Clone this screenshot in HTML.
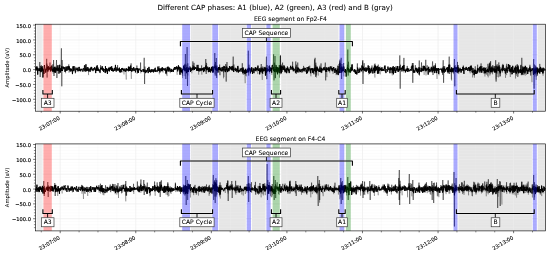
<!DOCTYPE html>
<html><head><meta charset="utf-8"><style>html,body{margin:0;padding:0;background:#fff;overflow:hidden}svg{display:block;filter:blur(0.25px)}</style></head><body>
<svg width="550" height="253" viewBox="0 0 550 253" font-family="'DejaVu Sans', 'Liberation Sans', sans-serif" fill="#000">
<style>text{stroke:#000;stroke-width:0.15;stroke-linejoin:round;text-rendering:geometricPrecision} text.t{stroke-width:0.06} text.r{stroke-width:1.1}</style>
<rect width="550" height="253" fill="#fff"/>
<text class="t" x="275.2" y="9.9" font-size="7.15" text-anchor="middle">Different CAP phases: A1 (blue), A2 (green), A3 (red) and B (gray)</text>
<rect x="36.80" y="24.20" width="5.80" height="87.00" fill="#808080" fill-opacity="0.15"/>
<rect x="191.00" y="24.20" width="20.40" height="87.00" fill="#808080" fill-opacity="0.2"/>
<rect x="219.00" y="24.20" width="26.80" height="87.00" fill="#808080" fill-opacity="0.2"/>
<rect x="251.90" y="24.20" width="13.60" height="87.00" fill="#808080" fill-opacity="0.2"/>
<rect x="281.20" y="24.20" width="57.30" height="87.00" fill="#808080" fill-opacity="0.2"/>
<rect x="458.40" y="24.20" width="73.50" height="87.00" fill="#808080" fill-opacity="0.2"/>
<rect x="537.70" y="24.20" width="7.80" height="87.00" fill="#808080" fill-opacity="0.2"/>
<path d="M35.4 108.18H545.5M35.4 105.22H545.5M35.4 102.25H545.5M35.4 96.31H545.5M35.4 93.34H545.5M35.4 90.38H545.5M35.4 87.41H545.5M35.4 81.47H545.5M35.4 78.50H545.5M35.4 75.54H545.5M35.4 72.57H545.5M35.4 66.63H545.5M35.4 63.66H545.5M35.4 60.70H545.5M35.4 57.73H545.5M35.4 51.79H545.5M35.4 48.82H545.5M35.4 45.86H545.5M35.4 42.89H545.5M35.4 36.95H545.5M35.4 33.98H545.5M35.4 31.02H545.5M35.4 28.05H545.5M41.31 24.2V111.2M79.09 24.2V111.2M97.98 24.2V111.2M116.88 24.2V111.2M154.66 24.2V111.2M173.56 24.2V111.2M192.45 24.2V111.2M230.23 24.2V111.2M249.12 24.2V111.2M268.02 24.2V111.2M305.80 24.2V111.2M324.69 24.2V111.2M343.59 24.2V111.2M381.37 24.2V111.2M400.26 24.2V111.2M419.16 24.2V111.2M456.94 24.2V111.2M475.83 24.2V111.2M494.73 24.2V111.2M532.51 24.2V111.2" stroke="#f2f2f2" stroke-width="0.5" stroke-opacity="0.45" fill="none"/>
<path d="M35.4 99.28H545.5M35.4 84.44H545.5M35.4 69.60H545.5M35.4 54.76H545.5M35.4 39.92H545.5M35.4 25.08H545.5M60.20 24.2V111.2M135.77 24.2V111.2M211.34 24.2V111.2M286.91 24.2V111.2M362.48 24.2V111.2M438.05 24.2V111.2M513.62 24.2V111.2" stroke="#ececec" stroke-width="0.7" fill="none"/>
<path d="M35.70 67.2 35.95 70.3 36.20 70.6 36.45 69.0 36.70 66.8 36.95 66.3 37.20 69.7 37.45 67.7 37.70 74.6 37.95 69.1 38.20 70.8 38.45 69.5 38.70 68.4 38.95 68.1 39.20 68.3 39.45 71.1 39.70 68.5 39.95 68.1 40.20 68.0 40.45 71.1 40.70 70.5 40.95 72.2 41.20 69.6 41.45 67.4 41.70 71.4 41.95 66.9 42.20 66.2 42.45 70.7 42.70 67.9 42.95 77.5 43.20 72.8 43.45 70.9 43.70 69.4 43.95 73.9 44.20 66.1 44.45 65.0 44.70 67.8 44.95 67.9 45.20 69.6 45.45 69.2 45.70 72.6 45.95 70.6 46.20 69.7 46.45 69.9 46.70 68.7 46.95 68.8 47.20 67.1 47.45 67.7 47.70 69.6 47.95 71.5 48.20 67.7 48.45 66.3 48.70 70.1 48.95 67.9 49.20 69.3 49.45 69.0 49.70 67.8 49.95 67.3 50.20 69.9 50.45 66.8 50.70 71.4 50.95 68.7 51.20 70.2 51.45 69.2 51.70 65.6 51.95 70.3 52.20 69.2 52.45 71.0 52.70 71.6 52.95 69.7 53.20 67.6 53.45 68.4 53.70 71.5 53.95 69.0 54.20 70.5 54.45 72.4 54.70 66.8 54.95 71.1 55.20 68.4 55.45 72.7 55.70 70.8 55.95 67.7 56.20 70.1 56.45 68.0 56.70 70.2 56.95 70.9 57.20 70.9 57.45 70.5 57.70 67.7 57.95 65.2 58.20 70.9 58.45 68.5 58.70 67.8 58.95 73.6 59.20 72.2 59.45 68.9 59.70 64.8 59.95 66.7 60.20 70.6 60.45 72.5 60.70 68.1 60.95 68.9 61.20 69.7 61.45 70.9 61.70 66.3 61.95 69.4 62.20 69.7 62.45 71.0 62.70 69.9 62.95 66.4 63.20 68.1 63.45 67.1 63.70 68.9 63.95 69.2 64.20 69.1 64.45 67.2 64.70 67.8 64.95 71.8 65.20 70.5 65.45 71.3 65.70 69.1 65.95 66.7 66.20 70.5 66.45 70.7 66.70 69.2 66.95 66.6 67.20 70.5 67.45 69.5 67.70 69.6 67.95 66.3 68.20 68.6 68.45 66.6 68.70 67.1 68.95 70.0 69.20 66.3 69.45 67.1 69.70 70.3 69.95 71.1 70.20 71.6 70.45 68.5 70.70 70.3 70.95 70.9 71.20 70.1 71.45 70.0 71.70 68.7 71.95 71.3 72.20 70.3 72.45 74.1 72.70 71.6 72.95 66.3 73.20 66.6 73.45 70.7 73.70 69.7 73.95 66.0 74.20 69.1 74.45 69.2 74.70 68.9 74.95 70.8 75.20 71.1 75.45 72.5 75.70 71.0 75.95 68.3 76.20 68.8 76.45 69.3 76.70 69.8 76.95 68.6 77.20 69.8 77.45 68.4 77.70 70.8 77.95 70.5 78.20 70.4 78.45 69.9 78.70 70.7 78.95 68.5 79.20 66.9 79.45 68.8 79.70 70.9 79.95 69.7 80.20 68.8 80.45 69.8 80.70 71.3 80.95 70.0 81.20 69.0 81.45 69.7 81.70 69.7 81.95 68.7 82.20 70.0 82.45 70.8 82.70 71.4 82.95 71.7 83.20 68.9 83.45 68.4 83.70 69.2 83.95 68.5 84.20 70.8 84.45 65.4 84.70 66.2 84.95 66.7 85.20 71.6 85.45 70.1 85.70 67.5 85.95 64.3 86.20 71.1 86.45 71.2 86.70 68.5 86.95 69.7 87.20 67.0 87.45 70.7 87.70 70.7 87.95 71.0 88.20 69.2 88.45 70.4 88.70 71.4 88.95 68.3 89.20 70.6 89.45 70.3 89.70 69.3 89.95 71.8 90.20 71.7 90.45 70.3 90.70 67.8 90.95 70.4 91.20 66.9 91.45 68.9 91.70 67.5 91.95 67.6 92.20 70.0 92.45 69.2 92.70 69.8 92.95 71.1 93.20 70.5 93.45 68.4 93.70 69.4 93.95 69.3 94.20 69.1 94.45 69.4 94.70 67.2 94.95 68.4 95.20 70.3 95.45 69.2 95.70 73.1 95.95 68.3 96.20 69.5 96.45 66.5 96.70 71.0 96.95 69.9 97.20 65.3 97.45 70.7 97.70 70.3 97.95 67.6 98.20 68.8 98.45 69.0 98.70 71.1 98.95 70.1 99.20 70.2 99.45 70.3 99.70 70.2 99.95 72.6 100.20 69.2 100.45 68.9 100.70 67.7 100.95 69.4 101.20 68.4 101.45 69.3 101.70 67.8 101.95 69.0 102.20 66.2 102.45 69.1 102.70 70.6 102.95 67.9 103.20 68.2 103.45 68.7 103.70 71.9 103.95 70.7 104.20 69.3 104.45 69.5 104.70 69.8 104.95 69.2 105.20 72.9 105.45 66.2 105.70 72.1 105.95 69.8 106.20 70.2 106.45 69.6 106.70 68.2 106.95 71.4 107.20 69.1 107.45 73.9 107.70 71.0 107.95 70.8 108.20 70.7 108.45 68.3 108.70 69.1 108.95 70.8 109.20 67.8 109.45 71.3 109.70 68.3 109.95 68.8 110.20 67.7 110.45 69.6 110.70 66.9 110.95 67.7 111.20 67.8 111.45 71.0 111.70 66.3 111.95 70.0 112.20 70.9 112.45 71.0 112.70 68.1 112.95 70.3 113.20 71.6 113.45 69.9 113.70 71.0 113.95 69.7 114.20 70.2 114.45 67.9 114.70 68.8 114.95 70.9 115.20 68.4 115.45 64.9 115.70 69.6 115.95 69.1 116.20 71.6 116.45 70.7 116.70 68.4 116.95 67.4 117.20 70.2 117.45 68.6 117.70 68.9 117.95 70.7 118.20 70.8 118.45 69.7 118.70 68.6 118.95 69.9 119.20 68.8 119.45 67.7 119.70 72.1 119.95 70.0 120.20 72.5 120.45 70.5 120.70 69.1 120.95 69.9 121.20 72.2 121.45 69.1 121.70 68.2 121.95 69.5 122.20 69.9 122.45 68.1 122.70 68.1 122.95 69.8 123.20 69.8 123.45 69.0 123.70 70.6 123.95 69.8 124.20 71.3 124.45 69.6 124.70 69.8 124.95 69.2 125.20 70.5 125.45 70.1 125.70 71.7 125.95 70.8 126.20 70.1 126.45 68.4 126.70 70.5 126.95 68.9 127.20 69.3 127.45 70.0 127.70 68.9 127.95 70.9 128.20 71.1 128.45 66.8 128.70 71.2 128.95 66.6 129.20 69.5 129.45 70.9 129.70 67.1 129.95 69.2 130.20 68.4 130.45 70.8 130.70 65.6 130.95 68.7 131.20 68.0 131.45 69.7 131.70 71.7 131.95 71.3 132.20 70.7 132.45 70.3 132.70 68.3 132.95 71.1 133.20 70.4 133.45 67.4 133.70 68.3 133.95 68.7 134.20 70.4 134.45 70.9 134.70 70.3 134.95 68.3 135.20 68.6 135.45 72.4 135.70 70.7 135.95 70.5 136.20 68.3 136.45 69.1 136.70 68.6 136.95 69.6 137.20 69.8 137.45 68.2 137.70 72.6 137.95 70.6 138.20 68.5 138.45 72.8 138.70 69.5 138.95 70.1 139.20 69.8 139.45 69.0 139.70 68.6 139.95 69.5 140.20 70.5 140.45 70.2 140.70 70.6 140.95 71.2 141.20 70.3 141.45 71.7 141.70 72.0 141.95 70.4 142.20 69.9 142.45 70.0 142.70 69.6 142.95 69.8 143.20 71.6 143.45 70.8 143.70 69.1 143.95 72.1 144.20 71.8 144.45 71.3 144.70 71.5 144.95 69.7 145.20 70.9 145.45 73.1 145.70 73.0 145.95 70.5 146.20 71.9 146.45 72.2 146.70 70.3 146.95 69.9 147.20 71.4 147.45 70.2 147.70 68.1 147.95 68.7 148.20 73.1 148.45 70.3 148.70 69.7 148.95 66.9 149.20 69.1 149.45 71.9 149.70 69.2 149.95 71.0 150.20 70.5 150.45 70.7 150.70 72.5 150.95 69.9 151.20 69.7 151.45 71.9 151.70 71.2 151.95 69.1 152.20 71.5 152.45 71.5 152.70 70.5 152.95 71.3 153.20 69.6 153.45 72.4 153.70 70.3 153.95 70.6 154.20 69.3 154.45 71.5 154.70 70.4 154.95 68.1 155.20 67.8 155.45 69.2 155.70 72.0 155.95 70.5 156.20 70.2 156.45 70.3 156.70 70.5 156.95 71.8 157.20 71.8 157.45 70.2 157.70 70.7 157.95 66.6 158.20 70.1 158.45 70.3 158.70 71.0 158.95 68.2 159.20 70.9 159.45 69.3 159.70 69.2 159.95 72.4 160.20 68.4 160.45 70.1 160.70 70.3 160.95 70.1 161.20 69.3 161.45 71.1 161.70 67.9 161.95 67.7 162.20 71.2 162.45 67.4 162.70 69.8 162.95 70.2 163.20 68.8 163.45 68.5 163.70 69.3 163.95 70.0 164.20 68.6 164.45 69.5 164.70 69.2 164.95 70.7 165.20 68.2 165.45 70.7 165.70 70.2 165.95 73.6 166.20 72.7 166.45 69.9 166.70 71.8 166.95 71.7 167.20 68.5 167.45 66.9 167.70 70.5 167.95 70.1 168.20 66.7 168.45 70.3 168.70 71.5 168.95 68.2 169.20 70.4 169.45 67.7 169.70 70.2 169.95 70.3 170.20 71.7 170.45 70.6 170.70 70.4 170.95 71.0 171.20 68.9 171.45 72.0 171.70 69.7 171.95 71.3 172.20 69.7 172.45 70.2 172.70 71.4 172.95 71.0 173.20 71.5 173.45 71.9 173.70 68.6 173.95 69.9 174.20 69.2 174.45 67.0 174.70 68.0 174.95 69.7 175.20 68.3 175.45 67.2 175.70 69.1 175.95 69.4 176.20 69.0 176.45 66.5 176.70 67.7 176.95 68.7 177.20 67.4 177.45 67.2 177.70 71.4 177.95 69.7 178.20 67.0 178.45 65.3 178.70 69.5 178.95 66.7 179.20 68.4 179.45 67.2 179.70 67.1 179.95 74.7 180.20 68.4 180.45 70.8 180.70 72.1 180.95 68.0 181.20 70.8 181.45 70.3 181.70 72.4 181.95 70.9 182.20 69.6 182.45 73.3 182.70 71.4 182.95 70.2 183.20 68.3 183.45 68.0 183.70 65.6 183.95 69.9 184.20 67.1 184.45 70.4 184.70 70.3 184.95 68.2 185.20 71.3 185.45 71.0 185.70 70.4 185.95 68.3 186.20 68.0 186.45 73.2 186.70 70.7 186.95 67.1 187.20 72.1 187.45 69.1 187.70 72.0 187.95 71.6 188.20 71.0 188.45 71.9 188.70 67.7 188.95 69.4 189.20 69.4 189.45 69.5 189.70 68.5 189.95 68.8 190.20 67.4 190.45 71.9 190.70 68.3 190.95 71.0 191.20 69.9 191.45 69.7 191.70 70.3 191.95 69.8 192.20 68.1 192.45 69.0 192.70 69.9 192.95 67.2 193.20 67.8 193.45 68.2 193.70 69.4 193.95 66.2 194.20 68.1 194.45 70.0 194.70 67.7 194.95 69.0 195.20 67.5 195.45 67.2 195.70 68.7 195.95 68.8 196.20 67.6 196.45 68.8 196.70 70.8 196.95 68.5 197.20 64.9 197.45 70.7 197.70 69.1 197.95 67.5 198.20 68.8 198.45 71.0 198.70 69.1 198.95 68.0 199.20 71.4 199.45 70.2 199.70 69.0 199.95 68.4 200.20 69.7 200.45 68.5 200.70 71.1 200.95 70.8 201.20 70.6 201.45 69.0 201.70 68.5 201.95 70.3 202.20 68.4 202.45 69.8 202.70 69.5 202.95 68.2 203.20 70.5 203.45 67.6 203.70 72.1 203.95 69.0 204.20 71.0 204.45 70.7 204.70 67.4 204.95 67.3 205.20 69.1 205.45 69.0 205.70 67.1 205.95 65.1 206.20 65.2 206.45 68.9 206.70 70.3 206.95 67.0 207.20 66.7 207.45 68.9 207.70 69.7 207.95 70.0 208.20 69.4 208.45 67.9 208.70 72.1 208.95 68.5 209.20 71.6 209.45 67.3 209.70 71.4 209.95 69.5 210.20 68.8 210.45 72.3 210.70 72.4 210.95 68.9 211.20 70.1 211.45 66.9 211.70 70.8 211.95 69.8 212.20 69.0 212.45 71.6 212.70 66.4 212.95 72.8 213.20 71.0 213.45 71.6 213.70 67.1 213.95 66.6 214.20 67.9 214.45 67.6 214.70 67.6 214.95 66.8 215.20 69.4 215.45 68.2 215.70 68.1 215.95 69.9 216.20 69.7 216.45 69.5 216.70 67.6 216.95 71.0 217.20 70.0 217.45 70.2 217.70 68.4 217.95 72.6 218.20 70.8 218.45 67.2 218.70 69.3 218.95 70.1 219.20 68.1 219.45 67.0 219.70 69.8 219.95 68.3 220.20 69.1 220.45 70.5 220.70 68.2 220.95 67.8 221.20 68.3 221.45 71.0 221.70 70.5 221.95 71.5 222.20 67.0 222.45 70.1 222.70 70.7 222.95 69.7 223.20 69.0 223.45 70.0 223.70 70.2 223.95 69.5 224.20 68.6 224.45 66.3 224.70 68.7 224.95 71.4 225.20 69.0 225.45 72.1 225.70 68.7 225.95 66.8 226.20 68.5 226.45 70.3 226.70 68.0 226.95 67.3 227.20 68.0 227.45 72.1 227.70 70.1 227.95 69.2 228.20 71.2 228.45 70.4 228.70 68.1 228.95 71.2 229.20 69.9 229.45 66.1 229.70 68.3 229.95 69.6 230.20 69.2 230.45 68.7 230.70 67.2 230.95 68.6 231.20 66.3 231.45 69.8 231.70 68.8 231.95 68.2 232.20 68.4 232.45 70.3 232.70 65.9 232.95 68.3 233.20 70.4 233.45 68.8 233.70 71.7 233.95 70.1 234.20 68.9 234.45 69.5 234.70 69.6 234.95 69.1 235.20 67.8 235.45 68.7 235.70 71.1 235.95 69.4 236.20 68.6 236.45 68.9 236.70 70.2 236.95 72.2 237.20 68.8 237.45 71.0 237.70 66.2 237.95 67.4 238.20 71.6 238.45 72.5 238.70 70.0 238.95 70.5 239.20 69.9 239.45 71.0 239.70 71.1 239.95 71.8 240.20 68.7 240.45 69.4 240.70 70.5 240.95 68.6 241.20 69.0 241.45 68.9 241.70 68.3 241.95 71.8 242.20 71.0 242.45 69.2 242.70 71.9 242.95 72.9 243.20 70.4 243.45 69.4 243.70 70.2 243.95 71.5 244.20 72.6 244.45 70.6 244.70 70.3 244.95 74.1 245.20 73.6 245.45 71.7 245.70 68.8 245.95 71.6 246.20 71.9 246.45 73.0 246.70 71.7 246.95 70.3 247.20 72.5 247.45 68.7 247.70 69.0 247.95 69.8 248.20 69.2 248.45 72.2 248.70 67.7 248.95 69.3 249.20 68.3 249.45 68.0 249.70 70.5 249.95 67.9 250.20 69.7 250.45 73.3 250.70 69.6 250.95 72.0 251.20 69.2 251.45 70.6 251.70 67.2 251.95 69.9 252.20 70.1 252.45 73.8 252.70 70.9 252.95 70.7 253.20 69.9 253.45 68.5 253.70 71.8 253.95 73.2 254.20 69.4 254.45 69.4 254.70 69.0 254.95 69.6 255.20 71.1 255.45 67.8 255.70 67.2 255.95 70.8 256.20 68.5 256.45 69.1 256.70 69.7 256.95 68.5 257.20 69.3 257.45 69.8 257.70 69.5 257.95 65.6 258.20 71.0 258.45 69.6 258.70 70.7 258.95 70.3 259.20 68.4 259.45 69.6 259.70 74.3 259.95 69.7 260.20 68.4 260.45 69.6 260.70 72.2 260.95 71.2 261.20 68.9 261.45 70.8 261.70 68.6 261.95 70.0 262.20 71.8 262.45 73.4 262.70 68.5 262.95 70.0 263.20 69.2 263.45 71.3 263.70 69.3 263.95 68.4 264.20 67.4 264.45 69.6 264.70 69.8 264.95 71.0 265.20 67.6 265.45 75.6 265.70 68.2 265.95 71.6 266.20 72.5 266.45 72.8 266.70 69.5 266.95 67.8 267.20 68.4 267.45 71.4 267.70 70.2 267.95 69.8 268.20 69.1 268.45 70.4 268.70 71.2 268.95 71.0 269.20 66.2 269.45 69.3 269.70 72.0 269.95 68.7 270.20 71.0 270.45 69.4 270.70 67.5 270.95 68.5 271.20 70.6 271.45 68.2 271.70 72.7 271.95 66.3 272.20 65.3 272.45 64.9 272.70 67.1 272.95 69.4 273.20 67.5 273.45 70.7 273.70 67.2 273.95 70.0 274.20 71.5 274.45 71.9 274.70 69.4 274.95 72.1 275.20 69.5 275.45 69.7 275.70 69.0 275.95 69.8 276.20 67.0 276.45 71.6 276.70 68.9 276.95 69.1 277.20 68.6 277.45 74.3 277.70 67.0 277.95 67.3 278.20 71.7 278.45 68.0 278.70 69.3 278.95 68.4 279.20 73.2 279.45 68.0 279.70 67.4 279.95 68.7 280.20 69.1 280.45 69.7 280.70 66.0 280.95 69.5 281.20 73.3 281.45 66.4 281.70 71.4 281.95 72.0 282.20 68.8 282.45 68.1 282.70 66.4 282.95 69.8 283.20 68.9 283.45 67.7 283.70 69.6 283.95 65.4 284.20 68.6 284.45 70.4 284.70 69.4 284.95 69.0 285.20 72.3 285.45 69.7 285.70 70.9 285.95 70.9 286.20 68.2 286.45 70.8 286.70 73.2 286.95 69.7 287.20 69.2 287.45 67.6 287.70 70.0 287.95 68.3 288.20 69.2 288.45 71.1 288.70 69.2 288.95 69.1 289.20 73.1 289.45 70.2 289.70 70.2 289.95 68.9 290.20 67.3 290.45 67.8 290.70 65.8 290.95 69.7 291.20 68.7 291.45 68.0 291.70 67.3 291.95 68.7 292.20 69.6 292.45 69.5 292.70 66.6 292.95 68.0 293.20 68.7 293.45 68.2 293.70 71.2 293.95 70.6 294.20 69.6 294.45 69.3 294.70 68.8 294.95 70.7 295.20 70.8 295.45 72.7 295.70 70.4 295.95 66.5 296.20 71.1 296.45 71.0 296.70 70.2 296.95 72.4 297.20 69.8 297.45 71.7 297.70 67.5 297.95 70.3 298.20 70.3 298.45 67.8 298.70 69.4 298.95 72.3 299.20 71.4 299.45 71.1 299.70 68.8 299.95 69.5 300.20 70.1 300.45 72.1 300.70 70.8 300.95 69.6 301.20 70.4 301.45 69.4 301.70 69.5 301.95 72.4 302.20 71.7 302.45 68.8 302.70 70.0 302.95 68.8 303.20 70.7 303.45 70.5 303.70 69.8 303.95 68.1 304.20 70.4 304.45 69.9 304.70 70.5 304.95 70.5 305.20 67.9 305.45 69.1 305.70 69.0 305.95 69.2 306.20 72.1 306.45 70.2 306.70 73.7 306.95 70.2 307.20 67.0 307.45 73.1 307.70 71.2 307.95 71.2 308.20 71.4 308.45 70.4 308.70 66.6 308.95 70.7 309.20 68.8 309.45 68.4 309.70 68.3 309.95 69.2 310.20 69.1 310.45 69.8 310.70 72.9 310.95 68.4 311.20 69.7 311.45 68.5 311.70 68.5 311.95 70.1 312.20 70.6 312.45 68.4 312.70 72.7 312.95 68.4 313.20 72.6 313.45 71.7 313.70 71.6 313.95 71.0 314.20 68.5 314.45 70.9 314.70 68.3 314.95 67.7 315.20 69.1 315.45 71.6 315.70 68.6 315.95 68.7 316.20 72.2 316.45 70.4 316.70 69.5 316.95 67.0 317.20 70.2 317.45 67.9 317.70 69.7 317.95 70.8 318.20 70.2 318.45 71.3 318.70 71.4 318.95 68.6 319.20 70.4 319.45 72.0 319.70 69.7 319.95 67.4 320.20 69.1 320.45 69.3 320.70 72.2 320.95 70.4 321.20 67.8 321.45 68.7 321.70 72.6 321.95 68.4 322.20 69.1 322.45 70.3 322.70 70.0 322.95 69.0 323.20 70.4 323.45 67.8 323.70 69.1 323.95 67.4 324.20 68.5 324.45 68.6 324.70 70.0 324.95 69.5 325.20 69.1 325.45 70.2 325.70 71.8 325.95 71.2 326.20 67.6 326.45 69.5 326.70 71.8 326.95 68.9 327.20 69.9 327.45 69.5 327.70 69.6 327.95 67.7 328.20 69.8 328.45 69.8 328.70 68.5 328.95 70.8 329.20 70.0 329.45 70.9 329.70 69.6 329.95 70.1 330.20 68.0 330.45 66.5 330.70 67.1 330.95 68.6 331.20 67.6 331.45 69.1 331.70 68.7 331.95 70.5 332.20 68.3 332.45 68.0 332.70 71.2 332.95 69.6 333.20 68.7 333.45 67.1 333.70 68.3 333.95 69.5 334.20 70.0 334.45 69.4 334.70 69.7 334.95 73.0 335.20 68.7 335.45 69.9 335.70 68.6 335.95 71.4 336.20 70.0 336.45 71.6 336.70 70.5 336.95 74.3 337.20 71.0 337.45 68.7 337.70 69.5 337.95 69.5 338.20 75.1 338.45 71.1 338.70 70.4 338.95 66.2 339.20 69.8 339.45 73.1 339.70 70.2 339.95 63.2 340.20 69.4 340.45 67.7 340.70 68.5 340.95 73.0 341.20 67.7 341.45 67.4 341.70 72.0 341.95 67.9 342.20 67.3 342.45 71.2 342.70 68.8 342.95 69.2 343.20 70.6 343.45 71.0 343.70 66.5 343.95 67.4 344.20 70.7 344.45 72.2 344.70 71.3 344.95 71.1 345.20 71.0 345.45 69.0 345.70 72.7 345.95 70.1 346.20 76.6 346.45 72.6 346.70 71.9 346.95 71.1 347.20 68.0 347.45 67.3 347.70 70.1 347.95 68.3 348.20 68.3 348.45 70.5 348.70 68.4 348.95 72.3 349.20 72.1 349.45 70.6 349.70 71.7 349.95 69.1 350.20 72.7 350.45 68.5 350.70 72.1 350.95 67.0 351.20 67.4 351.45 70.7 351.70 69.4 351.95 64.5 352.20 70.1 352.45 68.8 352.70 69.3 352.95 70.4 353.20 70.7 353.45 71.4 353.70 70.6 353.95 70.3 354.20 70.4 354.45 71.7 354.70 69.2 354.95 72.3 355.20 72.0 355.45 73.7 355.70 70.3 355.95 73.6 356.20 72.1 356.45 72.0 356.70 74.4 356.95 70.3 357.20 70.6 357.45 67.6 357.70 67.9 357.95 71.5 358.20 73.0 358.45 72.0 358.70 71.8 358.95 69.3 359.20 70.8 359.45 71.2 359.70 72.4 359.95 69.1 360.20 69.8 360.45 68.6 360.70 68.7 360.95 68.7 361.20 69.1 361.45 71.3 361.70 69.6 361.95 65.5 362.20 67.3 362.45 68.6 362.70 69.9 362.95 68.2 363.20 69.1 363.45 69.1 363.70 67.8 363.95 69.3 364.20 69.4 364.45 68.5 364.70 70.7 364.95 68.2 365.20 69.7 365.45 71.1 365.70 71.5 365.95 67.4 366.20 69.6 366.45 71.5 366.70 68.4 366.95 70.1 367.20 70.5 367.45 69.7 367.70 68.0 367.95 68.8 368.20 65.4 368.45 70.7 368.70 72.7 368.95 71.9 369.20 70.0 369.45 68.0 369.70 73.6 369.95 69.0 370.20 70.4 370.45 70.2 370.70 72.8 370.95 72.0 371.20 67.8 371.45 69.5 371.70 70.7 371.95 69.5 372.20 70.6 372.45 70.4 372.70 71.6 372.95 73.4 373.20 67.7 373.45 68.4 373.70 70.5 373.95 69.9 374.20 67.9 374.45 66.2 374.70 72.8 374.95 67.8 375.20 66.6 375.45 65.6 375.70 71.1 375.95 69.9 376.20 69.0 376.45 66.9 376.70 70.1 376.95 69.6 377.20 65.9 377.45 73.7 377.70 70.8 377.95 69.0 378.20 67.2 378.45 68.1 378.70 73.6 378.95 69.4 379.20 67.2 379.45 70.1 379.70 70.7 379.95 69.9 380.20 69.6 380.45 68.6 380.70 70.2 380.95 68.2 381.20 68.1 381.45 68.8 381.70 71.1 381.95 67.3 382.20 70.6 382.45 70.3 382.70 70.8 382.95 69.0 383.20 70.1 383.45 69.3 383.70 70.0 383.95 71.0 384.20 68.1 384.45 66.6 384.70 68.8 384.95 65.5 385.20 67.8 385.45 71.5 385.70 71.1 385.95 73.1 386.20 70.2 386.45 69.5 386.70 69.2 386.95 69.8 387.20 70.0 387.45 71.1 387.70 71.6 387.95 66.6 388.20 69.9 388.45 69.2 388.70 68.5 388.95 69.0 389.20 69.7 389.45 69.6 389.70 68.4 389.95 73.2 390.20 67.2 390.45 68.9 390.70 70.2 390.95 68.0 391.20 69.7 391.45 68.4 391.70 68.9 391.95 68.6 392.20 73.2 392.45 67.6 392.70 70.8 392.95 69.4 393.20 66.2 393.45 74.3 393.70 69.2 393.95 68.1 394.20 70.8 394.45 69.0 394.70 67.1 394.95 70.0 395.20 72.9 395.45 70.0 395.70 72.8 395.95 68.4 396.20 67.9 396.45 70.3 396.70 70.5 396.95 70.5 397.20 68.4 397.45 66.1 397.70 70.8 397.95 70.7 398.20 72.0 398.45 68.8 398.70 69.3 398.95 71.2 399.20 66.2 399.45 70.1 399.70 69.8 399.95 69.7 400.20 69.4 400.45 69.6 400.70 68.5 400.95 67.9 401.20 67.6 401.45 69.2 401.70 68.4 401.95 71.4 402.20 69.9 402.45 68.7 402.70 65.9 402.95 69.1 403.20 67.1 403.45 70.6 403.70 66.1 403.95 65.0 404.20 69.1 404.45 69.2 404.70 71.0 404.95 70.6 405.20 70.2 405.45 72.4 405.70 69.8 405.95 71.4 406.20 68.7 406.45 70.9 406.70 70.2 406.95 70.0 407.20 68.0 407.45 68.1 407.70 71.9 407.95 70.8 408.20 70.8 408.45 70.5 408.70 68.5 408.95 71.4 409.20 70.0 409.45 70.2 409.70 70.2 409.95 71.1 410.20 70.5 410.45 69.8 410.70 69.0 410.95 69.7 411.20 70.6 411.45 67.7 411.70 68.0 411.95 67.3 412.20 65.8 412.45 67.8 412.70 66.8 412.95 69.3 413.20 69.1 413.45 69.7 413.70 72.8 413.95 69.8 414.20 70.6 414.45 71.1 414.70 72.7 414.95 70.3 415.20 70.2 415.45 67.9 415.70 69.0 415.95 69.1 416.20 70.6 416.45 71.5 416.70 67.8 416.95 69.6 417.20 70.1 417.45 73.1 417.70 68.8 417.95 69.0 418.20 71.8 418.45 69.1 418.70 71.1 418.95 67.3 419.20 74.6 419.45 69.2 419.70 69.1 419.95 67.7 420.20 70.5 420.45 70.6 420.70 70.3 420.95 71.9 421.20 69.7 421.45 68.3 421.70 71.3 421.95 71.3 422.20 68.5 422.45 69.2 422.70 70.8 422.95 70.4 423.20 65.9 423.45 70.7 423.70 69.1 423.95 67.4 424.20 69.3 424.45 66.1 424.70 68.4 424.95 69.8 425.20 70.8 425.45 68.2 425.70 69.9 425.95 69.2 426.20 70.4 426.45 68.8 426.70 70.5 426.95 69.3 427.20 68.2 427.45 68.3 427.70 69.8 427.95 69.4 428.20 74.6 428.45 69.0 428.70 66.8 428.95 70.6 429.20 69.9 429.45 68.9 429.70 72.2 429.95 72.0 430.20 71.0 430.45 70.4 430.70 70.4 430.95 71.0 431.20 68.3 431.45 67.6 431.70 69.9 431.95 67.4 432.20 72.3 432.45 68.5 432.70 68.4 432.95 69.4 433.20 71.2 433.45 68.9 433.70 67.3 433.95 67.2 434.20 69.7 434.45 68.7 434.70 73.1 434.95 71.7 435.20 65.5 435.45 68.6 435.70 70.6 435.95 70.7 436.20 68.1 436.45 69.6 436.70 73.1 436.95 69.7 437.20 68.3 437.45 69.0 437.70 70.7 437.95 68.7 438.20 70.2 438.45 68.0 438.70 73.9 438.95 69.4 439.20 69.5 439.45 69.4 439.70 69.8 439.95 68.7 440.20 68.5 440.45 69.4 440.70 69.2 440.95 69.0 441.20 69.6 441.45 68.7 441.70 71.2 441.95 71.2 442.20 72.7 442.45 69.9 442.70 70.0 442.95 69.5 443.20 71.8 443.45 69.6 443.70 68.5 443.95 69.5 444.20 72.7 444.45 68.3 444.70 68.8 444.95 69.4 445.20 69.4 445.45 71.6 445.70 70.1 445.95 69.0 446.20 69.0 446.45 68.2 446.70 69.4 446.95 67.5 447.20 70.3 447.45 71.8 447.70 68.4 447.95 67.1 448.20 72.4 448.45 69.5 448.70 71.2 448.95 64.7 449.20 69.3 449.45 69.0 449.70 69.4 449.95 71.1 450.20 71.9 450.45 70.4 450.70 71.4 450.95 69.2 451.20 71.8 451.45 69.5 451.70 67.4 451.95 71.8 452.20 69.7 452.45 71.3 452.70 68.3 452.95 70.3 453.20 72.4 453.45 68.3 453.70 69.3 453.95 70.5 454.20 68.6 454.45 67.7 454.70 68.4 454.95 67.3 455.20 67.5 455.45 69.6 455.70 71.9 455.95 69.4 456.20 67.3 456.45 68.7 456.70 67.9 456.95 72.4 457.20 69.7 457.45 71.1 457.70 68.5 457.95 68.9 458.20 72.0 458.45 70.2 458.70 70.5 458.95 70.1 459.20 68.6 459.45 71.0 459.70 71.4 459.95 70.9 460.20 69.7 460.45 68.7 460.70 70.3 460.95 70.9 461.20 72.5 461.45 69.0 461.70 70.2 461.95 69.4 462.20 70.4 462.45 68.8 462.70 67.8 462.95 67.0 463.20 70.8 463.45 67.8 463.70 71.4 463.95 73.9 464.20 68.5 464.45 69.0 464.70 68.8 464.95 67.9 465.20 67.9 465.45 70.0 465.70 70.0 465.95 70.0 466.20 66.9 466.45 69.8 466.70 69.5 466.95 68.4 467.20 69.1 467.45 70.3 467.70 70.8 467.95 68.2 468.20 68.8 468.45 67.1 468.70 67.9 468.95 70.6 469.20 69.7 469.45 70.8 469.70 67.8 469.95 69.4 470.20 70.1 470.45 70.7 470.70 65.9 470.95 69.1 471.20 65.6 471.45 69.1 471.70 69.7 471.95 67.8 472.20 72.4 472.45 70.9 472.70 72.7 472.95 71.1 473.20 71.8 473.45 70.7 473.70 70.9 473.95 70.6 474.20 75.2 474.45 71.1 474.70 69.8 474.95 74.0 475.20 70.2 475.45 69.9 475.70 73.5 475.95 72.4 476.20 74.0 476.45 73.2 476.70 72.2 476.95 70.6 477.20 73.3 477.45 68.4 477.70 70.9 477.95 71.5 478.20 69.2 478.45 68.5 478.70 69.8 478.95 69.7 479.20 70.4 479.45 67.3 479.70 68.6 479.95 72.5 480.20 66.5 480.45 68.1 480.70 70.8 480.95 66.3 481.20 67.9 481.45 68.5 481.70 72.6 481.95 69.5 482.20 70.1 482.45 69.1 482.70 70.3 482.95 68.1 483.20 68.0 483.45 70.6 483.70 68.8 483.95 70.0 484.20 70.7 484.45 70.9 484.70 72.7 484.95 73.1 485.20 68.0 485.45 69.2 485.70 73.1 485.95 70.8 486.20 69.8 486.45 70.3 486.70 70.2 486.95 72.0 487.20 70.1 487.45 71.0 487.70 68.9 487.95 72.0 488.20 71.7 488.45 72.2 488.70 69.2 488.95 68.8 489.20 65.8 489.45 67.2 489.70 68.9 489.95 70.1 490.20 71.3 490.45 68.0 490.70 71.9 490.95 69.9 491.20 70.3 491.45 68.8 491.70 67.5 491.95 72.0 492.20 68.5 492.45 70.4 492.70 68.5 492.95 70.1 493.20 69.7 493.45 69.9 493.70 68.8 493.95 70.8 494.20 68.5 494.45 68.7 494.70 72.5 494.95 69.6 495.20 71.5 495.45 69.0 495.70 70.2 495.95 72.4 496.20 70.1 496.45 71.1 496.70 71.0 496.95 71.2 497.20 67.3 497.45 68.0 497.70 69.0 497.95 66.6 498.20 70.1 498.45 70.9 498.70 66.3 498.95 66.1 499.20 65.5 499.45 71.8 499.70 71.1 499.95 72.4 500.20 71.6 500.45 73.2 500.70 72.2 500.95 69.9 501.20 70.3 501.45 69.1 501.70 69.5 501.95 68.6 502.20 67.7 502.45 71.1 502.70 68.5 502.95 67.5 503.20 65.1 503.45 70.1 503.70 69.6 503.95 69.5 504.20 70.7 504.45 70.3 504.70 71.0 504.95 67.9 505.20 72.0 505.45 73.5 505.70 71.7 505.95 69.1 506.20 71.0 506.45 69.5 506.70 70.1 506.95 68.3 507.20 72.7 507.45 71.4 507.70 69.7 507.95 67.2 508.20 68.9 508.45 64.2 508.70 65.5 508.95 64.8 509.20 71.2 509.45 67.5 509.70 65.5 509.95 71.2 510.20 68.9 510.45 69.7 510.70 71.4 510.95 72.0 511.20 71.4 511.45 71.0 511.70 67.2 511.95 72.2 512.20 74.2 512.45 72.6 512.70 65.8 512.95 68.2 513.20 69.4 513.45 72.4 513.70 70.4 513.95 72.8 514.20 71.7 514.45 68.9 514.70 67.7 514.95 70.7 515.20 72.4 515.45 70.2 515.70 67.9 515.95 70.2 516.20 72.3 516.45 73.5 516.70 71.8 516.95 71.5 517.20 67.1 517.45 69.7 517.70 70.8 517.95 71.2 518.20 68.5 518.45 71.0 518.70 73.3 518.95 70.5 519.20 71.1 519.45 70.6 519.70 70.3 519.95 72.7 520.20 69.0 520.45 72.7 520.70 70.3 520.95 69.9 521.20 71.5 521.45 70.8 521.70 69.9 521.95 74.6 522.20 70.5 522.45 69.2 522.70 70.7 522.95 72.7 523.20 71.3 523.45 67.8 523.70 72.2 523.95 69.1 524.20 66.9 524.45 68.5 524.70 67.6 524.95 73.4 525.20 68.1 525.45 66.1 525.70 67.1 525.95 69.9 526.20 71.2 526.45 68.9 526.70 67.7 526.95 67.5 527.20 69.2 527.45 69.3 527.70 74.0 527.95 72.2 528.20 70.6 528.45 69.7 528.70 71.4 528.95 68.1 529.20 68.6 529.45 70.0 529.70 69.2 529.95 69.3 530.20 69.5 530.45 71.6 530.70 69.8 530.95 70.7 531.20 70.4 531.45 71.0 531.70 71.0 531.95 70.0 532.20 68.3 532.45 69.7 532.70 69.9 532.95 69.5 533.20 71.1 533.45 74.7 533.70 72.5 533.95 67.5 534.20 73.6 534.45 72.1 534.70 70.9 534.95 73.3 535.20 72.1 535.45 73.2 535.70 68.7 535.95 71.9 536.20 69.4 536.45 71.9 536.70 71.5 536.95 67.9 537.20 70.8 537.45 73.8 537.70 70.1 537.95 68.3 538.20 72.1 538.45 70.7 538.70 72.4 538.95 69.0 539.20 70.9 539.45 70.4 539.70 73.4 539.95 68.0 540.20 70.6 540.45 68.3 540.70 67.2 540.95 72.0 541.20 70.3 541.45 71.3 541.70 68.6 541.95 68.4 542.20 71.5 542.45 68.9 542.70 72.4 542.95 73.5 543.20 69.8 543.45 69.6 543.70 70.8 543.95 68.3 544.20 69.4 544.45 69.5 544.70 70.0 544.95 70.5 545.20 69.0" fill="none" stroke="#000" stroke-width="1.0" stroke-linejoin="round"/>
<path d="M40.98 69.3L41.23 65.1L41.48 71.6M46.67 68.7L46.92 63.6L47.17 71.6M49.74 67.7L49.99 62.5L50.24 71.5M52.61 70.3L52.86 64.3L53.11 73.7M55.60 69.0L55.85 66.7L56.10 72.3M59.14 69.7L59.39 67.2L59.64 72.4M65.12 71.0L65.37 69.0L65.62 73.3M68.53 68.0L68.78 64.4L69.03 72.8M73.08 68.7L73.33 67.0L73.58 71.4M74.90 71.0L75.15 66.8L75.40 73.6M76.77 68.9L77.02 67.1L77.27 72.0M78.32 70.3L78.57 67.3L78.82 72.1M88.09 69.9L88.34 67.2L88.59 75.1M99.82 70.9L100.07 68.9L100.32 73.2M100.39 68.0L100.64 65.2L100.89 70.2M105.43 71.6L105.68 69.4L105.93 73.3M108.86 68.8L109.11 66.9L109.36 71.3M117.35 68.7L117.60 65.1L117.85 70.9M121.88 69.7L122.13 68.2L122.38 72.3M123.52 70.4L123.77 68.4L124.02 74.5M124.76 69.5L125.01 68.0L125.26 71.6M125.76 70.6L126.01 68.9L126.26 79.6M130.83 68.3L131.08 63.4L131.33 78.9M133.62 68.6L133.87 67.0L134.12 71.2M136.66 69.4L136.91 65.5L137.16 74.0M140.33 70.4L140.58 62.5L140.83 73.4M158.83 69.6L159.08 66.2L159.33 74.4M162.54 69.9L162.79 67.9L163.04 72.5M165.86 73.1L166.11 67.5L166.36 74.7M166.56 71.7L166.81 69.2L167.06 76.1M169.80 70.9L170.05 68.2L170.30 73.2M176.65 68.5L176.90 66.7L177.15 74.8M179.59 71.5L179.84 67.6L180.09 73.8M180.46 71.9L180.71 67.1L180.96 74.8M182.14 72.4L182.39 69.9L182.64 78.1M182.29 72.6L182.54 69.2L182.79 75.9M184.39 70.3L184.64 64.9L184.89 76.2M184.69 68.2L184.94 63.8L185.19 70.7M187.45 72.0L187.70 69.9L187.95 75.4M189.60 68.7L189.85 66.1L190.10 70.8M191.35 70.1L191.60 67.7L191.85 73.3M192.63 68.0L192.88 61.4L193.13 71.0M192.76 67.4L193.01 65.1L193.26 70.0M193.75 66.6L194.00 62.9L194.25 69.1M198.23 70.8L198.48 64.9L198.73 74.7M201.36 68.7L201.61 65.4L201.86 74.7M205.27 68.4L205.52 65.9L205.77 71.9M207.75 69.9L208.00 67.9L208.25 71.7M207.81 69.7L208.06 66.8L208.31 72.4M214.54 67.3L214.79 64.5L215.04 74.2M215.27 68.2L215.52 65.8L215.77 70.4M215.88 69.8L216.13 65.8L216.38 75.8M219.40 69.2L219.65 64.6L219.90 75.2M219.56 69.1L219.81 67.0L220.06 75.3M223.08 69.5L223.33 66.1L223.58 78.4M223.15 69.8L223.40 67.0L223.65 72.8M223.53 70.0L223.78 65.8L224.03 76.9M226.72 67.4L226.97 62.0L227.22 69.5M231.16 69.3L231.41 67.7L231.66 70.9M233.14 69.2L233.39 67.1L233.64 72.1M237.78 68.8L238.03 65.8L238.28 72.2M242.05 70.3L242.30 63.2L242.55 74.2M242.21 69.4L242.46 67.3L242.71 72.4M242.39 71.3L242.64 68.6L242.89 72.9M242.95 70.4L243.20 68.0L243.45 74.8M243.29 69.7L243.54 67.4L243.79 73.9M244.70 74.1L244.95 69.7L245.20 83.2M245.01 73.2L245.26 69.3L245.51 75.7M246.14 72.7L246.39 70.2L246.64 76.4M251.92 70.0L252.17 68.0L252.42 71.9M254.10 69.4L254.35 67.6L254.60 71.3M255.84 69.5L256.09 67.7L256.34 71.7M257.35 69.6L257.60 67.3L257.85 74.1M260.86 69.7L261.11 67.1L261.36 72.7M260.99 69.2L261.24 64.0L261.49 71.5M261.77 70.5L262.02 68.1L262.27 79.9M262.53 68.9L262.78 66.5L263.03 74.0M264.64 70.7L264.89 68.5L265.14 72.6M264.82 69.4L265.07 66.8L265.32 71.8M266.07 72.6L266.32 69.9L266.57 74.7M269.14 68.6L269.39 65.2L269.64 73.7M271.39 71.7L271.64 68.1L271.89 74.9M274.63 71.4L274.88 66.9L275.13 78.4M276.16 70.8L276.41 65.1L276.66 72.8M276.42 69.2L276.67 66.6L276.92 72.0M278.96 73.0L279.21 65.0L279.46 77.7M279.45 67.4L279.70 65.3L279.95 72.2M280.07 69.4L280.32 55.8L280.57 74.3M280.25 69.0L280.50 55.4L280.75 71.3M280.31 68.0L280.56 65.1L280.81 73.0M281.05 70.5L281.30 68.3L281.55 72.8M281.07 69.9L281.32 64.7L281.57 73.3M282.33 67.2L282.58 62.6L282.83 70.3M284.29 70.0L284.54 66.1L284.79 72.1M284.65 69.1L284.90 66.9L285.15 71.1M286.87 69.4L287.12 67.7L287.37 71.5M287.20 67.6L287.45 66.1L287.70 69.6M287.65 68.6L287.90 67.1L288.15 71.9M292.28 68.6L292.53 65.9L292.78 71.3M292.38 67.5L292.63 61.7L292.88 69.4M297.50 68.0L297.75 62.5L298.00 72.7M303.33 70.1L303.58 65.9L303.83 72.1M304.29 70.1L304.54 67.6L304.79 71.8M309.50 68.5L309.75 65.7L310.00 72.2M310.37 71.9L310.62 69.4L310.87 74.1M310.42 72.6L310.67 69.9L310.92 76.3M312.98 72.5L313.23 70.8L313.48 74.2M313.26 71.7L313.51 69.4L313.76 74.4M314.28 70.1L314.53 59.4L314.78 74.3M315.38 69.4L315.63 67.5L315.88 71.0M315.59 68.6L315.84 62.7L316.09 71.4M315.90 71.5L316.15 69.3L316.40 75.7M315.98 71.9L316.23 69.0L316.48 77.5M316.00 71.8L316.25 68.6L316.50 74.7M316.79 68.1L317.04 66.2L317.29 70.0M317.76 70.7L318.01 69.1L318.26 75.6M319.64 67.9L319.89 65.7L320.14 70.3M320.79 69.4L321.04 63.4L321.29 73.2M324.33 69.4L324.58 66.8L324.83 71.0M326.42 71.5L326.67 67.4L326.92 77.1M328.23 69.7L328.48 66.9L328.73 71.2M328.54 69.3L328.79 67.3L329.04 72.0M329.27 70.5L329.52 68.1L329.77 73.2M329.43 69.7L329.68 66.7L329.93 71.5M331.46 68.7L331.71 66.1L331.96 71.4M332.57 70.4L332.82 68.6L333.07 74.0M333.77 69.6L334.02 67.1L334.27 72.7M335.61 70.5L335.86 68.7L336.11 75.2M337.30 69.0L337.55 65.7L337.80 73.0M338.72 66.6L338.97 63.9L339.22 69.3M339.54 67.7L339.79 61.3L340.04 70.5M339.71 63.5L339.96 59.6L340.21 66.1M341.57 70.1L341.82 66.1L342.07 72.8M343.40 67.3L343.65 63.0L343.90 76.4M347.40 69.5L347.65 64.6L347.90 72.5M352.20 68.8L352.45 64.4L352.70 70.7M357.14 68.2L357.39 63.4L357.64 74.4M358.99 70.9L359.24 67.6L359.49 72.6M360.05 69.3L360.30 67.8L360.55 71.4M362.54 69.3L362.79 60.1L363.04 71.2M362.70 68.2L362.95 66.4L363.20 73.3M362.71 68.2L362.96 66.2L363.21 70.8M363.90 69.3L364.15 63.2L364.40 71.4M368.26 71.2L368.51 67.0L368.76 74.6M368.98 69.8L369.23 66.0L369.48 71.6M371.23 69.6L371.48 67.9L371.73 71.8M371.73 69.6L371.98 65.5L372.23 73.7M373.44 70.3L373.69 68.6L373.94 72.4M374.16 66.5L374.41 64.5L374.66 69.4M374.30 68.9L374.55 67.4L374.80 71.0M374.44 72.7L374.69 70.4L374.94 77.6M374.78 67.4L375.03 63.6L375.28 70.7M378.03 67.5L378.28 64.6L378.53 70.1M379.78 69.8L380.03 66.7L380.28 74.4M384.46 68.6L384.71 66.5L384.96 71.5M391.76 69.7L392.01 67.1L392.26 75.4M395.81 68.1L396.06 66.0L396.31 69.9M403.29 69.0L403.54 65.5L403.79 72.4M403.66 65.1L403.91 57.9L404.16 68.4M407.00 68.0L407.25 65.9L407.50 69.9M411.14 68.4L411.39 66.3L411.64 70.7M412.10 67.0L412.35 64.8L412.60 71.6M412.86 69.2L413.11 63.0L413.36 70.7M415.10 68.8L415.35 65.2L415.60 71.5M419.01 73.4L419.26 60.5L419.51 75.8M421.27 69.1L421.52 62.4L421.77 72.3M423.66 67.7L423.91 65.5L424.16 74.9M425.10 69.3L425.35 67.2L425.60 71.4M425.53 69.6L425.78 59.8L426.03 75.4M425.54 69.6L425.79 68.0L426.04 72.2M426.94 68.3L427.19 65.3L427.44 70.2M430.33 70.4L430.58 68.5L430.83 72.3M430.94 68.4L431.19 66.7L431.44 71.3M433.79 68.1L434.04 65.4L434.29 70.4M434.13 69.0L434.38 67.0L434.63 70.6M435.19 68.5L435.44 63.4L435.69 70.5M435.72 70.4L435.97 68.9L436.22 72.6M436.56 71.7L436.81 69.1L437.06 78.9M438.50 72.9L438.75 70.6L439.00 75.3M442.08 71.2L442.33 67.5L442.58 74.9M442.29 69.9L442.54 68.4L442.79 74.8M443.48 68.7L443.73 66.3L443.98 70.9M444.47 68.8L444.72 66.3L444.97 70.6M447.20 71.8L447.45 69.8L447.70 73.5M447.97 72.2L448.22 66.9L448.47 73.7M449.17 69.1L449.42 64.6L449.67 71.7M450.86 70.9L451.11 68.4L451.36 79.5M450.87 71.0L451.12 68.9L451.37 72.9M451.17 69.7L451.42 67.7L451.67 80.6M452.94 72.3L453.19 69.8L453.44 74.2M454.32 68.1L454.57 66.1L454.82 72.3M456.98 69.8L457.23 66.7L457.48 73.2M457.23 70.8L457.48 61.9L457.73 73.2M457.50 68.6L457.75 66.8L458.00 72.0M457.60 68.8L457.85 65.2L458.10 73.2M457.67 68.9L457.92 65.0L458.17 71.4M457.72 69.1L457.97 67.0L458.22 72.7M458.28 70.3L458.53 67.6L458.78 74.1M459.73 70.8L459.98 67.7L460.23 72.9M463.05 69.6L463.30 65.5L463.55 71.4M463.12 68.7L463.37 66.3L463.62 70.4M469.36 68.8L469.61 66.7L469.86 72.2M469.71 69.5L469.96 66.8L470.21 73.4M471.37 69.5L471.62 67.3L471.87 72.2M472.08 71.6L472.33 68.3L472.58 77.5M473.26 70.7L473.51 68.1L473.76 74.5M473.94 75.0L474.19 69.6L474.44 77.7M475.00 70.1L475.25 66.3L475.50 73.6M477.39 70.3L477.64 64.7L477.89 72.8M480.83 67.1L481.08 63.4L481.33 72.5M481.72 69.5L481.97 66.0L482.22 72.6M483.12 69.8L483.37 67.5L483.62 73.5M483.85 70.4L484.10 68.4L484.35 73.5M484.03 70.8L484.28 67.1L484.53 73.5M484.45 72.7L484.70 68.2L484.95 76.5M485.54 72.3L485.79 70.5L486.04 74.3M485.83 70.3L486.08 67.2L486.33 74.7M487.22 70.9L487.47 68.9L487.72 75.9M487.70 72.0L487.95 63.8L488.20 77.4M488.53 69.1L488.78 67.2L489.03 72.9M489.13 66.8L489.38 63.3L489.63 70.1M489.38 68.4L489.63 63.6L489.88 75.7M489.59 69.5L489.84 67.1L490.09 73.5M489.77 70.4L490.02 62.4L490.27 74.4M490.36 70.4L490.61 61.1L490.86 73.2M491.11 69.4L491.36 66.4L491.61 72.7M491.73 71.5L491.98 68.7L492.23 73.4M492.09 69.6L492.34 66.4L492.59 74.4M492.52 68.9L492.77 65.0L493.02 71.3M492.81 69.9L493.06 67.9L493.31 72.0M493.64 70.3L493.89 66.3L494.14 72.4M494.23 69.1L494.48 66.2L494.73 70.9M495.45 70.2L495.70 66.1L495.95 72.9M495.59 71.4L495.84 69.4L496.09 79.4M496.01 70.4L496.26 65.7L496.51 73.5M496.57 71.1L496.82 69.1L497.07 77.0M496.70 71.2L496.95 65.7L497.20 73.7M496.89 68.2L497.14 64.2L497.39 70.5M497.98 70.1L498.23 68.2L498.48 77.4M498.59 66.2L498.84 62.4L499.09 68.2M499.42 71.2L499.67 69.1L499.92 73.9M499.43 71.2L499.68 67.2L499.93 76.9M499.61 72.0L499.86 66.8L500.11 76.3M499.88 71.9L500.13 68.7L500.38 76.0M502.07 69.3L502.32 65.4L502.57 72.7M502.61 67.9L502.86 63.9L503.11 70.5M505.06 72.7L505.31 70.8L505.56 77.9M506.12 70.0L506.37 65.8L506.62 75.2M506.51 69.7L506.76 63.8L507.01 71.5M509.12 68.7L509.37 66.5L509.62 71.6M509.18 67.8L509.43 65.6L509.68 71.6M509.81 70.1L510.06 67.8L510.31 73.0M509.82 70.0L510.07 65.2L510.32 77.0M510.74 71.9L510.99 69.6L511.24 74.5M510.82 71.7L511.07 69.0L511.32 74.2M511.59 70.0L511.84 66.9L512.09 72.1M515.08 71.3L515.33 67.8L515.58 78.6M515.16 70.5L515.41 66.2L515.66 74.4M515.24 69.9L515.49 65.6L515.74 72.5M515.59 69.2L515.84 67.1L516.09 72.7M515.94 72.2L516.19 67.1L516.44 75.8M516.81 69.5L517.06 64.9L517.31 72.5M517.04 68.1L517.29 64.2L517.54 77.0M517.25 69.9L517.50 66.1L517.75 71.7M517.74 70.8L517.99 68.2L518.24 72.7M517.75 70.7L518.00 66.4L518.25 76.6M518.05 69.5L518.30 65.4L518.55 71.8M518.06 69.7L518.31 66.7L518.56 73.2M520.42 70.5L520.67 65.3L520.92 72.9M520.81 70.6L521.06 64.8L521.31 75.4M522.45 70.7L522.70 67.1L522.95 75.3M522.56 71.6L522.81 66.1L523.06 74.6M523.51 71.5L523.76 67.7L524.01 75.0M524.54 69.8L524.79 68.0L525.04 71.7M524.69 73.3L524.94 70.6L525.19 75.7M525.00 67.7L525.25 65.6L525.50 72.1M526.09 69.9L526.34 67.7L526.59 74.8M529.37 69.5L529.62 67.4L529.87 71.8M529.52 69.2L529.77 66.6L530.02 71.9M529.65 69.3L529.90 64.8L530.15 72.5M529.82 69.4L530.07 66.8L530.32 72.0M530.11 70.8L530.36 68.8L530.61 75.5M530.33 70.6L530.58 68.4L530.83 75.6M531.51 70.7L531.76 68.6L532.01 82.2M532.83 70.4L533.08 68.0L533.33 74.6M534.51 71.4L534.76 69.2L535.01 76.6M534.83 72.7L535.08 68.7L535.33 75.1M535.36 70.3L535.61 65.5L535.86 72.6M535.75 71.4L536.00 68.5L536.25 79.9M535.83 70.6L536.08 66.7L536.33 73.4M536.05 70.4L536.30 67.5L536.55 76.5M537.00 71.4L537.25 69.2L537.50 75.2M537.06 72.2L537.31 67.2L537.56 75.9M539.54 71.5L539.79 63.9L540.04 73.8M540.11 69.1L540.36 66.7L540.61 70.9M541.95 71.4L542.20 69.7L542.45 73.1M542.02 70.7L542.27 68.1L542.52 72.4M542.58 73.0L542.83 70.7L543.08 75.8M542.90 70.6L543.15 67.3L543.40 72.3M543.20 69.6L543.45 68.0L543.70 73.0M46.30 68.8L46.70 58.8L47.10 77.6L47.40 65.3L47.70 68.8M53.20 71.5L53.60 60.0L54.00 76.0L54.30 67.5L54.60 71.5M56.10 70.2L56.50 60.0L56.90 78.0L57.20 66.6L57.50 70.2M61.00 66.3L61.40 48.3L61.80 86.3L62.10 60.0L62.40 66.3M39.40 68.1L39.80 62.0L40.20 77.0L40.50 66.0L40.80 68.1M143.80 71.3L144.20 57.8L144.60 84.0L144.90 66.6L145.20 71.3M186.70 72.1L187.10 47.0L187.50 86.0L187.80 63.3L188.10 72.1M185.00 70.4L185.40 54.0L185.80 79.0L186.10 64.7L186.40 70.4M205.40 65.1L205.80 59.0L206.20 74.0L206.50 62.9L206.80 65.1M214.40 66.8L214.80 53.0L215.20 75.6L215.50 62.0L215.80 66.8M215.90 69.5L216.30 58.0L216.70 78.0L217.00 65.5L217.30 69.5M225.40 66.8L225.80 64.0L226.20 81.6L226.50 65.8L226.80 66.8M232.80 68.8L233.20 56.6L233.60 72.0L233.90 64.5L234.20 68.8M247.90 72.2L248.30 50.7L248.70 75.6L249.00 64.7L249.30 72.2M266.00 69.5L266.40 56.6L266.80 79.2L267.10 65.0L267.40 69.5M273.20 67.2L273.60 54.3L274.00 80.4L274.30 62.7L274.60 67.2M274.60 69.5L275.00 56.0L275.40 78.0L275.70 64.8L276.00 69.5M295.40 66.5L295.80 61.4L296.20 74.0L296.50 64.7L296.80 66.5M314.70 69.1L315.10 57.8L315.50 76.8L315.80 65.2L316.10 69.1M324.90 70.2L325.30 62.6L325.70 80.4L326.00 67.5L326.30 70.2M340.80 67.4L341.20 57.8L341.60 79.0L341.90 64.0L342.20 67.4M347.40 68.3L347.80 49.5L348.20 75.6L348.50 61.7L348.80 68.3M362.20 69.9L362.60 61.4L363.00 84.0L363.30 67.0L363.60 69.9M399.40 69.7L399.80 55.4L400.20 88.7L400.50 64.7L400.80 69.7M412.00 66.8L412.40 63.0L412.80 82.8L413.10 65.4L413.40 66.8M432.20 68.4L432.60 61.4L433.00 75.0L433.30 66.0L433.60 68.4M442.80 69.6L443.20 60.2L443.60 82.8L443.90 66.3L444.20 69.6M448.80 69.0L449.20 56.6L449.60 74.0L449.90 64.7L450.20 69.0M454.00 68.4L454.40 59.0L454.80 86.3L455.10 65.1L455.40 68.4M495.30 72.4L495.70 60.2L496.10 81.6L496.40 68.1L496.70 72.4M521.40 74.6L521.80 57.8L522.20 74.0L522.50 68.7L522.80 74.6M533.30 67.5L533.70 59.0L534.10 88.7L534.40 64.5L534.70 67.5" stroke="#000" stroke-width="0.45" fill="none" stroke-linejoin="round"/>
<rect x="43.40" y="24.20" width="8.40" height="87.00" fill="#ff0000" fill-opacity="0.32"/>
<rect x="182.20" y="24.20" width="7.90" height="87.00" fill="#0000ff" fill-opacity="0.33"/>
<rect x="212.30" y="24.20" width="5.80" height="87.00" fill="#0000ff" fill-opacity="0.33"/>
<rect x="246.70" y="24.20" width="4.30" height="87.00" fill="#0000ff" fill-opacity="0.33"/>
<rect x="266.40" y="24.20" width="4.20" height="87.00" fill="#0000ff" fill-opacity="0.33"/>
<rect x="339.50" y="24.20" width="4.80" height="87.00" fill="#0000ff" fill-opacity="0.33"/>
<rect x="453.50" y="24.20" width="4.00" height="87.00" fill="#0000ff" fill-opacity="0.33"/>
<rect x="532.80" y="24.20" width="4.00" height="87.00" fill="#0000ff" fill-opacity="0.33"/>
<rect x="272.60" y="24.20" width="7.20" height="87.00" fill="#008000" fill-opacity="0.32"/>
<rect x="345.90" y="24.20" width="4.90" height="87.00" fill="#008000" fill-opacity="0.32"/>
<path d="M180.40 46.30V41.50H352.40V46.30" stroke="#fff" stroke-opacity="0.2" stroke-width="2.6" fill="none" stroke-linejoin="round"/><path d="M180.40 46.30V41.50H352.40V46.30" stroke="#000" stroke-width="1.1" fill="none" stroke-linejoin="round"/><path d="M266.40 41.50V37.40" stroke="#000" stroke-width="0.9" fill="none"/>
<rect x="242.40" y="28.60" width="48.00" height="8.80" fill="#fff" stroke="#3a3a3a" stroke-width="0.7"/><text class="t" x="266.40" y="35.20" font-size="6.05" text-anchor="middle">CAP Sequence</text>
<path d="M42.90 89.90V94.00H52.30V89.90" stroke="#fff" stroke-opacity="0.2" stroke-width="2.6" fill="none" stroke-linejoin="round"/><path d="M42.90 89.90V94.00H52.30V89.90" stroke="#000" stroke-width="1.1" fill="none" stroke-linejoin="round"/><path d="M47.60 94.00V98.30" stroke="#000" stroke-width="0.9" fill="none"/>
<rect x="41.40" y="98.30" width="12.60" height="9.00" fill="#fff" stroke="#3a3a3a" stroke-width="0.7"/><text class="t" x="47.70" y="105.00" font-size="6.05" text-anchor="middle">A3</text>
<path d="M181.40 89.90V94.00H212.60V89.90" stroke="#fff" stroke-opacity="0.2" stroke-width="2.6" fill="none" stroke-linejoin="round"/><path d="M181.40 89.90V94.00H212.60V89.90" stroke="#000" stroke-width="1.1" fill="none" stroke-linejoin="round"/><path d="M197.00 94.00V98.30" stroke="#000" stroke-width="0.9" fill="none"/>
<rect x="179.80" y="98.30" width="34.30" height="9.00" fill="#fff" stroke="#3a3a3a" stroke-width="0.7"/><text class="t" x="196.95" y="105.00" font-size="6.05" text-anchor="middle">CAP Cycle</text>
<path d="M271.40 89.90V94.00H280.60V89.90" stroke="#fff" stroke-opacity="0.2" stroke-width="2.6" fill="none" stroke-linejoin="round"/><path d="M271.40 89.90V94.00H280.60V89.90" stroke="#000" stroke-width="1.1" fill="none" stroke-linejoin="round"/><path d="M276.00 94.00V98.30" stroke="#000" stroke-width="0.9" fill="none"/>
<rect x="270.10" y="98.30" width="11.90" height="9.00" fill="#fff" stroke="#3a3a3a" stroke-width="0.7"/><text class="t" x="276.05" y="105.00" font-size="6.05" text-anchor="middle">A2</text>
<path d="M338.80 89.90V94.00H345.20V89.90" stroke="#fff" stroke-opacity="0.2" stroke-width="2.6" fill="none" stroke-linejoin="round"/><path d="M338.80 89.90V94.00H345.20V89.90" stroke="#000" stroke-width="1.1" fill="none" stroke-linejoin="round"/><path d="M342.00 94.00V98.30" stroke="#000" stroke-width="0.9" fill="none"/>
<rect x="336.70" y="98.30" width="10.60" height="9.00" fill="#fff" stroke="#3a3a3a" stroke-width="0.7"/><text class="t" x="342.00" y="105.00" font-size="6.05" text-anchor="middle">A1</text>
<path d="M456.40 89.90V94.00H534.20V89.90" stroke="#fff" stroke-opacity="0.2" stroke-width="2.6" fill="none" stroke-linejoin="round"/><path d="M456.40 89.90V94.00H534.20V89.90" stroke="#000" stroke-width="1.1" fill="none" stroke-linejoin="round"/><path d="M495.30 94.00V98.30" stroke="#000" stroke-width="0.9" fill="none"/>
<rect x="491.20" y="98.30" width="8.60" height="9.00" fill="#fff" stroke="#3a3a3a" stroke-width="0.7"/><text class="t" x="495.50" y="105.00" font-size="6.05" text-anchor="middle">B</text>
<rect x="35.4" y="24.2" width="510.10" height="87.00" fill="none" stroke="#000" stroke-width="0.62"/>
<path d="M33.10 99.28H35.4M33.10 84.44H35.4M33.10 69.60H35.4M33.10 54.76H35.4M33.10 39.92H35.4M33.10 25.08H35.4M60.20 111.2v2.3M135.77 111.2v2.3M211.34 111.2v2.3M286.91 111.2v2.3M362.48 111.2v2.3M438.05 111.2v2.3M513.62 111.2v2.3" stroke="#000" stroke-width="0.55" fill="none"/>
<path d="M33.90 108.18H35.4M33.90 105.22H35.4M33.90 102.25H35.4M33.90 96.31H35.4M33.90 93.34H35.4M33.90 90.38H35.4M33.90 87.41H35.4M33.90 81.47H35.4M33.90 78.50H35.4M33.90 75.54H35.4M33.90 72.57H35.4M33.90 66.63H35.4M33.90 63.66H35.4M33.90 60.70H35.4M33.90 57.73H35.4M33.90 51.79H35.4M33.90 48.82H35.4M33.90 45.86H35.4M33.90 42.89H35.4M33.90 36.95H35.4M33.90 33.98H35.4M33.90 31.02H35.4M33.90 28.05H35.4M41.31 111.2v1.5M79.09 111.2v1.5M97.98 111.2v1.5M116.88 111.2v1.5M154.66 111.2v1.5M173.56 111.2v1.5M192.45 111.2v1.5M230.23 111.2v1.5M249.12 111.2v1.5M268.02 111.2v1.5M305.80 111.2v1.5M324.69 111.2v1.5M343.59 111.2v1.5M381.37 111.2v1.5M400.26 111.2v1.5M419.16 111.2v1.5M456.94 111.2v1.5M475.83 111.2v1.5M494.73 111.2v1.5M532.51 111.2v1.5" stroke="#000" stroke-width="0.45" fill="none"/>
<text x="31.00" y="101.86" font-size="5.15" text-anchor="end">−100.0</text>
<text x="31.00" y="87.02" font-size="5.15" text-anchor="end">−50.0</text>
<text x="31.00" y="72.18" font-size="5.15" text-anchor="end">0.0</text>
<text x="31.00" y="57.34" font-size="5.15" text-anchor="end">50.0</text>
<text x="31.00" y="42.50" font-size="5.15" text-anchor="end">100.0</text>
<text x="31.00" y="27.66" font-size="5.15" text-anchor="end">150.0</text>
<text class="r" font-size="51.5" text-anchor="end" transform="translate(60.30 119.10) rotate(-30) scale(0.1)">23:07:00</text>
<text class="r" font-size="51.5" text-anchor="end" transform="translate(135.87 119.10) rotate(-30) scale(0.1)">23:08:00</text>
<text class="r" font-size="51.5" text-anchor="end" transform="translate(211.44 119.10) rotate(-30) scale(0.1)">23:09:00</text>
<text class="r" font-size="51.5" text-anchor="end" transform="translate(287.01 119.10) rotate(-30) scale(0.1)">23:10:00</text>
<text class="r" font-size="51.5" text-anchor="end" transform="translate(362.58 119.10) rotate(-30) scale(0.1)">23:11:00</text>
<text class="r" font-size="51.5" text-anchor="end" transform="translate(438.15 119.10) rotate(-30) scale(0.1)">23:12:00</text>
<text class="r" font-size="51.5" text-anchor="end" transform="translate(513.72 119.10) rotate(-30) scale(0.1)">23:13:00</text>
<text class="t" x="290.45" y="21.45" font-size="6.05" text-anchor="middle">EEG segment on Fp2-F4</text>
<text class="t" x="8.9" y="67.70" font-size="5.25" text-anchor="middle" transform="rotate(-90 8.9 67.70)">Amplitude (uV)</text>
<rect x="36.80" y="143.90" width="5.80" height="87.00" fill="#808080" fill-opacity="0.15"/>
<rect x="191.00" y="143.90" width="20.40" height="87.00" fill="#808080" fill-opacity="0.2"/>
<rect x="219.00" y="143.90" width="26.80" height="87.00" fill="#808080" fill-opacity="0.2"/>
<rect x="251.90" y="143.90" width="13.60" height="87.00" fill="#808080" fill-opacity="0.2"/>
<rect x="281.20" y="143.90" width="57.30" height="87.00" fill="#808080" fill-opacity="0.2"/>
<rect x="458.40" y="143.90" width="73.50" height="87.00" fill="#808080" fill-opacity="0.2"/>
<rect x="537.70" y="143.90" width="7.80" height="87.00" fill="#808080" fill-opacity="0.2"/>
<path d="M35.4 227.63H545.5M35.4 224.67H545.5M35.4 221.70H545.5M35.4 215.76H545.5M35.4 212.79H545.5M35.4 209.83H545.5M35.4 206.86H545.5M35.4 200.92H545.5M35.4 197.95H545.5M35.4 194.99H545.5M35.4 192.02H545.5M35.4 186.08H545.5M35.4 183.11H545.5M35.4 180.15H545.5M35.4 177.18H545.5M35.4 171.24H545.5M35.4 168.27H545.5M35.4 165.31H545.5M35.4 162.34H545.5M35.4 156.40H545.5M35.4 153.43H545.5M35.4 150.47H545.5M35.4 147.50H545.5M41.31 143.9V230.9M79.09 143.9V230.9M97.98 143.9V230.9M116.88 143.9V230.9M154.66 143.9V230.9M173.56 143.9V230.9M192.45 143.9V230.9M230.23 143.9V230.9M249.12 143.9V230.9M268.02 143.9V230.9M305.80 143.9V230.9M324.69 143.9V230.9M343.59 143.9V230.9M381.37 143.9V230.9M400.26 143.9V230.9M419.16 143.9V230.9M456.94 143.9V230.9M475.83 143.9V230.9M494.73 143.9V230.9M532.51 143.9V230.9" stroke="#f2f2f2" stroke-width="0.5" stroke-opacity="0.45" fill="none"/>
<path d="M35.4 218.73H545.5M35.4 203.89H545.5M35.4 189.05H545.5M35.4 174.21H545.5M35.4 159.37H545.5M35.4 144.53H545.5M60.20 143.9V230.9M135.77 143.9V230.9M211.34 143.9V230.9M286.91 143.9V230.9M362.48 143.9V230.9M438.05 143.9V230.9M513.62 143.9V230.9" stroke="#ececec" stroke-width="0.7" fill="none"/>
<path d="M35.70 189.9 35.95 188.7 36.20 191.7 36.45 187.3 36.70 188.0 36.95 184.7 37.20 189.8 37.45 188.3 37.70 190.1 37.95 191.9 38.20 188.4 38.45 190.9 38.70 187.3 38.95 188.6 39.20 192.1 39.45 191.8 39.70 186.6 39.95 188.1 40.20 190.0 40.45 189.2 40.70 186.6 40.95 187.8 41.20 187.9 41.45 190.7 41.70 187.8 41.95 192.0 42.20 190.1 42.45 185.9 42.70 190.0 42.95 193.4 43.20 192.1 43.45 191.6 43.70 187.1 43.95 188.5 44.20 193.8 44.45 190.2 44.70 188.3 44.95 189.9 45.20 192.0 45.45 190.9 45.70 190.3 45.95 190.5 46.20 187.8 46.45 188.3 46.70 189.6 46.95 186.8 47.20 189.3 47.45 186.8 47.70 190.7 47.95 187.4 48.20 190.8 48.45 188.6 48.70 187.2 48.95 186.9 49.20 188.6 49.45 188.3 49.70 186.8 49.95 191.5 50.20 191.5 50.45 190.8 50.70 187.3 50.95 185.9 51.20 186.2 51.45 190.9 51.70 190.6 51.95 186.1 52.20 191.1 52.45 189.7 52.70 186.8 52.95 188.7 53.20 191.5 53.45 188.9 53.70 188.1 53.95 188.4 54.20 186.6 54.45 187.8 54.70 185.3 54.95 189.3 55.20 185.6 55.45 192.1 55.70 184.9 55.95 191.3 56.20 187.9 56.45 188.3 56.70 190.8 56.95 191.8 57.20 191.8 57.45 189.0 57.70 191.0 57.95 190.6 58.20 186.1 58.45 189.1 58.70 191.3 58.95 188.4 59.20 190.3 59.45 193.8 59.70 188.8 59.95 190.9 60.20 188.1 60.45 190.3 60.70 189.2 60.95 187.3 61.20 189.4 61.45 189.5 61.70 189.2 61.95 188.8 62.20 186.6 62.45 188.4 62.70 187.8 62.95 189.2 63.20 190.0 63.45 188.1 63.70 190.1 63.95 188.4 64.20 185.7 64.45 187.0 64.70 187.5 64.95 188.9 65.20 188.2 65.45 188.7 65.70 189.3 65.95 190.2 66.20 188.7 66.45 188.1 66.70 190.4 66.95 191.9 67.20 189.6 67.45 189.1 67.70 189.1 67.95 185.6 68.20 187.1 68.45 189.6 68.70 188.6 68.95 188.6 69.20 191.6 69.45 188.6 69.70 189.8 69.95 188.8 70.20 188.2 70.45 188.2 70.70 190.6 70.95 188.1 71.20 186.6 71.45 190.3 71.70 189.8 71.95 189.3 72.20 189.1 72.45 186.7 72.70 188.7 72.95 190.7 73.20 191.7 73.45 188.6 73.70 190.0 73.95 187.9 74.20 188.5 74.45 187.3 74.70 188.7 74.95 189.2 75.20 187.7 75.45 188.6 75.70 190.3 75.95 189.7 76.20 187.9 76.45 186.2 76.70 186.7 76.95 191.5 77.20 189.2 77.45 189.0 77.70 190.7 77.95 190.5 78.20 191.8 78.45 188.8 78.70 187.8 78.95 186.8 79.20 188.9 79.45 189.1 79.70 189.6 79.95 190.0 80.20 188.9 80.45 190.6 80.70 189.6 80.95 186.9 81.20 188.5 81.45 187.0 81.70 189.3 81.95 188.1 82.20 188.6 82.45 190.9 82.70 186.2 82.95 186.9 83.20 189.1 83.45 190.4 83.70 189.3 83.95 189.3 84.20 189.7 84.45 189.5 84.70 190.8 84.95 190.0 85.20 187.7 85.45 189.5 85.70 188.7 85.95 189.6 86.20 191.2 86.45 189.4 86.70 191.9 86.95 186.9 87.20 189.0 87.45 191.3 87.70 190.2 87.95 189.0 88.20 190.2 88.45 191.6 88.70 190.3 88.95 188.4 89.20 187.2 89.45 190.4 89.70 189.8 89.95 189.4 90.20 189.3 90.45 191.0 90.70 186.2 90.95 188.9 91.20 192.1 91.45 190.6 91.70 189.3 91.95 189.6 92.20 187.1 92.45 188.1 92.70 189.2 92.95 189.8 93.20 188.8 93.45 187.4 93.70 188.7 93.95 190.0 94.20 191.9 94.45 189.6 94.70 187.4 94.95 190.2 95.20 188.2 95.45 191.9 95.70 188.5 95.95 189.3 96.20 188.2 96.45 186.9 96.70 185.8 96.95 188.5 97.20 187.0 97.45 188.3 97.70 187.6 97.95 189.7 98.20 187.8 98.45 188.4 98.70 188.1 98.95 186.8 99.20 190.7 99.45 190.8 99.70 188.8 99.95 189.1 100.20 187.9 100.45 191.3 100.70 190.4 100.95 189.8 101.20 186.1 101.45 191.6 101.70 187.6 101.95 185.0 102.20 188.8 102.45 187.9 102.70 192.4 102.95 188.0 103.20 189.0 103.45 191.8 103.70 192.1 103.95 188.5 104.20 189.2 104.45 189.5 104.70 189.2 104.95 193.1 105.20 191.4 105.45 190.5 105.70 191.0 105.95 189.1 106.20 191.0 106.45 189.9 106.70 190.0 106.95 192.3 107.20 186.9 107.45 190.7 107.70 189.4 107.95 187.5 108.20 188.7 108.45 189.3 108.70 190.7 108.95 188.1 109.20 189.8 109.45 188.4 109.70 189.6 109.95 186.7 110.20 188.2 110.45 188.6 110.70 189.7 110.95 187.9 111.20 188.0 111.45 188.3 111.70 186.2 111.95 187.8 112.20 190.9 112.45 187.1 112.70 185.8 112.95 188.2 113.20 188.5 113.45 190.6 113.70 190.6 113.95 188.8 114.20 188.7 114.45 188.6 114.70 190.3 114.95 189.1 115.20 189.1 115.45 193.0 115.70 188.5 115.95 189.3 116.20 188.4 116.45 190.0 116.70 190.3 116.95 191.7 117.20 190.2 117.45 190.0 117.70 189.8 117.95 188.6 118.20 191.7 118.45 190.6 118.70 190.2 118.95 191.8 119.20 188.7 119.45 190.9 119.70 189.8 119.95 186.6 120.20 187.7 120.45 189.8 120.70 190.8 120.95 190.2 121.20 190.9 121.45 188.5 121.70 190.1 121.95 189.1 122.20 188.9 122.45 188.8 122.70 187.9 122.95 188.3 123.20 184.8 123.45 188.9 123.70 188.0 123.95 188.0 124.20 189.0 124.45 188.5 124.70 190.1 124.95 191.4 125.20 190.0 125.45 191.3 125.70 190.4 125.95 189.2 126.20 188.0 126.45 191.0 126.70 190.7 126.95 190.5 127.20 188.6 127.45 189.4 127.70 191.3 127.95 189.3 128.20 191.3 128.45 188.3 128.70 190.1 128.95 189.8 129.20 190.2 129.45 189.7 129.70 191.6 129.95 186.0 130.20 188.4 130.45 192.0 130.70 188.3 130.95 191.5 131.20 187.4 131.45 188.8 131.70 190.6 131.95 188.0 132.20 190.4 132.45 188.9 132.70 187.7 132.95 189.4 133.20 189.6 133.45 187.9 133.70 189.4 133.95 190.0 134.20 189.1 134.45 187.2 134.70 189.8 134.95 189.7 135.20 190.0 135.45 188.6 135.70 188.9 135.95 187.9 136.20 188.7 136.45 189.5 136.70 188.2 136.95 187.7 137.20 187.9 137.45 188.6 137.70 190.2 137.95 190.4 138.20 189.3 138.45 191.2 138.70 188.8 138.95 188.5 139.20 192.2 139.45 188.9 139.70 186.7 139.95 190.5 140.20 189.8 140.45 187.9 140.70 187.3 140.95 185.0 141.20 191.0 141.45 189.2 141.70 187.2 141.95 191.1 142.20 187.5 142.45 186.3 142.70 188.9 142.95 188.4 143.20 190.3 143.45 186.5 143.70 188.2 143.95 186.0 144.20 188.4 144.45 187.6 144.70 187.5 144.95 187.3 145.20 190.1 145.45 191.4 145.70 188.2 145.95 187.5 146.20 188.0 146.45 190.0 146.70 187.8 146.95 193.8 147.20 189.3 147.45 192.0 147.70 190.4 147.95 187.0 148.20 187.6 148.45 189.0 148.70 188.4 148.95 189.2 149.20 187.1 149.45 192.9 149.70 192.7 149.95 188.3 150.20 190.9 150.45 191.7 150.70 188.5 150.95 189.2 151.20 191.0 151.45 190.5 151.70 188.6 151.95 191.2 152.20 189.7 152.45 190.9 152.70 187.4 152.95 186.3 153.20 189.6 153.45 190.0 153.70 188.5 153.95 188.5 154.20 186.4 154.45 188.8 154.70 185.0 154.95 191.3 155.20 186.9 155.45 187.6 155.70 186.7 155.95 187.7 156.20 190.4 156.45 187.1 156.70 188.8 156.95 187.8 157.20 190.5 157.45 187.1 157.70 189.0 157.95 190.3 158.20 191.9 158.45 187.7 158.70 188.0 158.95 188.5 159.20 192.4 159.45 187.3 159.70 190.2 159.95 188.8 160.20 187.0 160.45 186.5 160.70 189.6 160.95 190.7 161.20 188.5 161.45 184.8 161.70 187.1 161.95 189.3 162.20 189.8 162.45 188.8 162.70 190.8 162.95 187.4 163.20 186.8 163.45 192.5 163.70 191.3 163.95 188.3 164.20 188.9 164.45 185.9 164.70 192.8 164.95 186.9 165.20 186.2 165.45 189.8 165.70 192.0 165.95 189.4 166.20 189.4 166.45 187.8 166.70 189.5 166.95 186.1 167.20 190.9 167.45 187.4 167.70 189.1 167.95 186.0 168.20 190.5 168.45 189.6 168.70 192.0 168.95 187.5 169.20 190.9 169.45 188.5 169.70 188.4 169.95 191.1 170.20 188.6 170.45 190.0 170.70 191.6 170.95 190.4 171.20 189.5 171.45 189.0 171.70 187.6 171.95 191.6 172.20 188.4 172.45 190.4 172.70 188.6 172.95 190.6 173.20 189.9 173.45 190.4 173.70 188.3 173.95 190.3 174.20 189.8 174.45 189.6 174.70 190.1 174.95 189.9 175.20 187.2 175.45 187.5 175.70 189.4 175.95 189.7 176.20 189.2 176.45 187.9 176.70 190.0 176.95 189.1 177.20 190.6 177.45 186.0 177.70 189.7 177.95 190.0 178.20 187.1 178.45 189.6 178.70 188.4 178.95 190.8 179.20 191.4 179.45 186.6 179.70 187.4 179.95 186.4 180.20 189.6 180.45 191.4 180.70 191.0 180.95 188.2 181.20 187.9 181.45 187.6 181.70 191.8 181.95 189.6 182.20 191.3 182.45 189.9 182.70 189.3 182.95 188.0 183.20 187.3 183.45 188.7 183.70 191.5 183.95 191.9 184.20 192.0 184.45 189.7 184.70 190.3 184.95 185.5 185.20 190.6 185.45 185.3 185.70 194.2 185.95 191.4 186.20 192.9 186.45 191.0 186.70 186.4 186.95 189.5 187.20 191.2 187.45 193.7 187.70 191.6 187.95 187.1 188.20 183.8 188.45 187.6 188.70 189.0 188.95 188.6 189.20 186.9 189.45 187.9 189.70 185.0 189.95 189.3 190.20 188.7 190.45 190.6 190.70 189.3 190.95 188.8 191.20 189.7 191.45 187.3 191.70 188.4 191.95 189.4 192.20 192.3 192.45 191.1 192.70 188.4 192.95 191.1 193.20 188.2 193.45 192.5 193.70 186.9 193.95 190.8 194.20 190.2 194.45 189.0 194.70 187.7 194.95 187.7 195.20 188.4 195.45 188.7 195.70 189.8 195.95 192.8 196.20 189.3 196.45 190.4 196.70 189.9 196.95 188.6 197.20 191.1 197.45 190.0 197.70 190.6 197.95 189.3 198.20 189.7 198.45 187.5 198.70 189.0 198.95 191.6 199.20 186.5 199.45 189.0 199.70 191.5 199.95 190.5 200.20 190.9 200.45 188.9 200.70 190.6 200.95 190.4 201.20 189.4 201.45 191.4 201.70 189.6 201.95 188.0 202.20 189.7 202.45 190.1 202.70 188.5 202.95 189.3 203.20 189.2 203.45 186.8 203.70 191.5 203.95 189.6 204.20 192.8 204.45 189.0 204.70 189.2 204.95 186.5 205.20 190.9 205.45 187.7 205.70 189.9 205.95 190.4 206.20 190.4 206.45 187.9 206.70 187.2 206.95 189.8 207.20 190.7 207.45 191.2 207.70 188.6 207.95 187.1 208.20 191.3 208.45 188.7 208.70 190.0 208.95 189.2 209.20 188.4 209.45 187.7 209.70 189.6 209.95 190.1 210.20 190.2 210.45 188.8 210.70 192.3 210.95 191.2 211.20 188.8 211.45 187.7 211.70 188.3 211.95 193.5 212.20 187.7 212.45 189.4 212.70 188.5 212.95 189.2 213.20 186.8 213.45 185.1 213.70 188.9 213.95 187.2 214.20 188.0 214.45 187.2 214.70 190.8 214.95 191.1 215.20 189.0 215.45 182.6 215.70 184.4 215.95 187.0 216.20 191.3 216.45 189.5 216.70 187.0 216.95 188.1 217.20 186.5 217.45 191.9 217.70 191.1 217.95 190.6 218.20 187.3 218.45 189.1 218.70 192.5 218.95 191.5 219.20 187.9 219.45 190.7 219.70 187.0 219.95 194.7 220.20 191.0 220.45 192.8 220.70 191.9 220.95 186.8 221.20 189.8 221.45 188.2 221.70 189.5 221.95 189.5 222.20 189.3 222.45 188.8 222.70 187.9 222.95 190.1 223.20 189.5 223.45 190.3 223.70 191.2 223.95 190.5 224.20 190.4 224.45 189.2 224.70 188.1 224.95 189.3 225.20 188.6 225.45 188.2 225.70 187.5 225.95 188.2 226.20 188.7 226.45 188.6 226.70 188.7 226.95 185.0 227.20 188.6 227.45 185.1 227.70 188.8 227.95 189.7 228.20 188.9 228.45 189.3 228.70 186.7 228.95 186.6 229.20 189.6 229.45 187.1 229.70 188.5 229.95 190.4 230.20 186.3 230.45 187.3 230.70 186.4 230.95 188.1 231.20 189.2 231.45 187.8 231.70 188.5 231.95 186.3 232.20 189.6 232.45 188.5 232.70 190.3 232.95 187.5 233.20 187.7 233.45 188.7 233.70 189.3 233.95 188.9 234.20 188.5 234.45 190.0 234.70 190.1 234.95 190.3 235.20 189.2 235.45 189.1 235.70 187.6 235.95 190.8 236.20 188.8 236.45 188.7 236.70 188.2 236.95 186.8 237.20 189.9 237.45 190.2 237.70 188.8 237.95 188.5 238.20 189.7 238.45 189.9 238.70 190.2 238.95 189.2 239.20 192.2 239.45 189.3 239.70 190.8 239.95 192.1 240.20 185.8 240.45 188.6 240.70 189.7 240.95 188.7 241.20 189.7 241.45 189.6 241.70 191.3 241.95 190.0 242.20 190.5 242.45 189.2 242.70 189.6 242.95 189.8 243.20 191.1 243.45 190.0 243.70 191.1 243.95 189.9 244.20 188.7 244.45 186.9 244.70 189.5 244.95 190.0 245.20 188.5 245.45 187.6 245.70 188.6 245.95 189.9 246.20 187.0 246.45 188.9 246.70 190.9 246.95 188.3 247.20 188.2 247.45 190.2 247.70 187.5 247.95 189.1 248.20 190.8 248.45 187.1 248.70 189.4 248.95 190.5 249.20 186.8 249.45 190.4 249.70 189.8 249.95 188.5 250.20 188.0 250.45 188.8 250.70 192.0 250.95 190.3 251.20 189.3 251.45 188.5 251.70 189.9 251.95 188.2 252.20 187.5 252.45 190.1 252.70 190.3 252.95 188.1 253.20 188.7 253.45 188.6 253.70 189.5 253.95 190.5 254.20 190.8 254.45 188.6 254.70 187.1 254.95 188.3 255.20 191.4 255.45 189.9 255.70 191.7 255.95 190.4 256.20 188.2 256.45 189.2 256.70 190.3 256.95 189.5 257.20 192.4 257.45 188.8 257.70 190.6 257.95 193.5 258.20 192.2 258.45 191.6 258.70 192.3 258.95 193.0 259.20 193.4 259.45 186.0 259.70 190.8 259.95 190.0 260.20 187.0 260.45 186.6 260.70 189.6 260.95 192.2 261.20 190.6 261.45 191.4 261.70 188.0 261.95 190.1 262.20 190.3 262.45 190.2 262.70 190.1 262.95 189.3 263.20 183.9 263.45 189.7 263.70 186.0 263.95 188.1 264.20 190.7 264.45 189.5 264.70 186.0 264.95 191.6 265.20 189.5 265.45 189.5 265.70 190.4 265.95 189.4 266.20 186.7 266.45 189.0 266.70 188.3 266.95 188.7 267.20 188.6 267.45 188.3 267.70 189.1 267.95 187.2 268.20 189.7 268.45 193.7 268.70 185.1 268.95 189.5 269.20 189.4 269.45 190.3 269.70 188.3 269.95 185.5 270.20 191.4 270.45 189.1 270.70 187.8 270.95 190.0 271.20 186.3 271.45 188.3 271.70 190.7 271.95 188.7 272.20 187.8 272.45 190.3 272.70 189.1 272.95 192.3 273.20 190.7 273.45 188.9 273.70 193.8 273.95 191.9 274.20 191.4 274.45 189.7 274.70 190.8 274.95 194.0 275.20 192.7 275.45 189.6 275.70 188.9 275.95 188.5 276.20 188.1 276.45 188.2 276.70 188.1 276.95 187.7 277.20 186.8 277.45 189.1 277.70 187.5 277.95 188.9 278.20 190.8 278.45 187.8 278.70 187.7 278.95 189.7 279.20 189.8 279.45 190.4 279.70 184.0 279.95 187.6 280.20 191.7 280.45 188.0 280.70 191.0 280.95 192.7 281.20 186.4 281.45 191.1 281.70 190.1 281.95 188.3 282.20 189.9 282.45 189.3 282.70 188.1 282.95 189.0 283.20 189.9 283.45 190.8 283.70 189.0 283.95 190.4 284.20 188.5 284.45 185.4 284.70 188.7 284.95 187.1 285.20 187.5 285.45 189.7 285.70 191.2 285.95 186.6 286.20 186.9 286.45 187.3 286.70 189.9 286.95 189.2 287.20 188.1 287.45 186.9 287.70 192.0 287.95 187.1 288.20 187.0 288.45 190.3 288.70 190.6 288.95 190.8 289.20 190.0 289.45 190.9 289.70 184.1 289.95 188.6 290.20 186.9 290.45 187.7 290.70 189.4 290.95 187.9 291.20 191.3 291.45 189.3 291.70 186.4 291.95 190.3 292.20 189.8 292.45 189.9 292.70 189.1 292.95 189.1 293.20 189.4 293.45 190.9 293.70 188.6 293.95 190.3 294.20 188.2 294.45 188.5 294.70 189.8 294.95 190.0 295.20 188.2 295.45 188.3 295.70 187.7 295.95 187.9 296.20 186.6 296.45 187.5 296.70 188.9 296.95 187.1 297.20 185.2 297.45 190.2 297.70 186.8 297.95 188.8 298.20 190.1 298.45 189.7 298.70 190.0 298.95 187.0 299.20 187.9 299.45 189.1 299.70 188.3 299.95 186.9 300.20 191.4 300.45 187.3 300.70 189.6 300.95 186.7 301.20 190.0 301.45 190.2 301.70 188.7 301.95 190.4 302.20 192.4 302.45 187.3 302.70 188.6 302.95 190.4 303.20 189.8 303.45 190.6 303.70 190.5 303.95 190.9 304.20 190.9 304.45 189.6 304.70 190.3 304.95 188.1 305.20 191.0 305.45 189.8 305.70 189.7 305.95 187.7 306.20 190.0 306.45 189.4 306.70 193.4 306.95 192.2 307.20 190.8 307.45 186.1 307.70 189.7 307.95 189.0 308.20 188.6 308.45 188.7 308.70 189.3 308.95 190.4 309.20 188.9 309.45 187.7 309.70 188.9 309.95 187.1 310.20 188.5 310.45 190.9 310.70 187.9 310.95 191.4 311.20 186.4 311.45 189.6 311.70 190.0 311.95 190.4 312.20 188.9 312.45 186.4 312.70 190.5 312.95 190.7 313.20 188.7 313.45 185.3 313.70 189.6 313.95 187.9 314.20 187.7 314.45 190.3 314.70 191.1 314.95 189.5 315.20 187.5 315.45 192.2 315.70 191.2 315.95 187.3 316.20 188.3 316.45 190.5 316.70 188.0 316.95 192.7 317.20 190.1 317.45 189.1 317.70 190.2 317.95 187.8 318.20 189.3 318.45 188.5 318.70 188.0 318.95 189.2 319.20 191.2 319.45 189.8 319.70 188.5 319.95 187.5 320.20 189.6 320.45 186.6 320.70 189.6 320.95 189.6 321.20 188.3 321.45 191.8 321.70 189.1 321.95 189.1 322.20 190.0 322.45 187.6 322.70 188.4 322.95 187.8 323.20 187.9 323.45 188.6 323.70 188.5 323.95 188.5 324.20 189.4 324.45 188.6 324.70 191.5 324.95 188.1 325.20 186.4 325.45 189.4 325.70 187.7 325.95 187.4 326.20 187.5 326.45 186.8 326.70 188.8 326.95 187.7 327.20 187.6 327.45 189.6 327.70 187.5 327.95 187.9 328.20 188.3 328.45 190.8 328.70 190.2 328.95 188.6 329.20 188.8 329.45 187.6 329.70 190.2 329.95 189.6 330.20 189.6 330.45 186.0 330.70 189.6 330.95 189.4 331.20 189.6 331.45 190.3 331.70 189.4 331.95 188.4 332.20 191.1 332.45 187.9 332.70 191.7 332.95 190.6 333.20 188.2 333.45 192.2 333.70 191.6 333.95 191.9 334.20 190.6 334.45 190.0 334.70 189.8 334.95 187.5 335.20 190.2 335.45 189.5 335.70 188.2 335.95 189.5 336.20 188.1 336.45 189.1 336.70 189.7 336.95 189.0 337.20 188.4 337.45 190.1 337.70 189.2 337.95 188.8 338.20 189.7 338.45 188.6 338.70 190.5 338.95 186.0 339.20 185.3 339.45 192.1 339.70 188.0 339.95 187.6 340.20 188.5 340.45 188.2 340.70 193.6 340.95 184.7 341.20 189.8 341.45 189.5 341.70 187.9 341.95 186.7 342.20 187.2 342.45 190.3 342.70 189.6 342.95 185.9 343.20 187.7 343.45 186.4 343.70 193.2 343.95 189.4 344.20 185.1 344.45 191.4 344.70 191.8 344.95 189.3 345.20 188.9 345.45 187.3 345.70 188.9 345.95 186.6 346.20 190.6 346.45 192.5 346.70 190.3 346.95 190.2 347.20 187.0 347.45 189.7 347.70 187.3 347.95 186.7 348.20 190.4 348.45 191.6 348.70 188.1 348.95 195.1 349.20 189.8 349.45 183.0 349.70 187.4 349.95 190.9 350.20 189.3 350.45 190.3 350.70 181.5 350.95 190.9 351.20 187.5 351.45 187.8 351.70 194.9 351.95 190.7 352.20 189.2 352.45 191.4 352.70 188.5 352.95 188.3 353.20 190.6 353.45 188.0 353.70 188.2 353.95 192.0 354.20 188.5 354.45 190.0 354.70 191.2 354.95 190.6 355.20 187.1 355.45 190.1 355.70 188.0 355.95 191.9 356.20 194.3 356.45 187.3 356.70 188.8 356.95 188.1 357.20 189.1 357.45 187.1 357.70 187.3 357.95 189.4 358.20 187.0 358.45 189.1 358.70 188.9 358.95 187.6 359.20 190.0 359.45 189.4 359.70 187.3 359.95 189.0 360.20 189.4 360.45 190.3 360.70 189.1 360.95 184.9 361.20 184.8 361.45 188.1 361.70 187.2 361.95 188.8 362.20 187.5 362.45 189.1 362.70 190.9 362.95 187.1 363.20 188.4 363.45 189.7 363.70 191.8 363.95 190.1 364.20 188.4 364.45 190.5 364.70 190.5 364.95 187.2 365.20 189.6 365.45 189.4 365.70 188.7 365.95 189.6 366.20 189.7 366.45 189.0 366.70 188.3 366.95 187.7 367.20 188.8 367.45 191.4 367.70 189.4 367.95 191.5 368.20 188.5 368.45 187.5 368.70 188.1 368.95 189.9 369.20 189.9 369.45 191.0 369.70 190.3 369.95 189.0 370.20 189.7 370.45 187.9 370.70 190.6 370.95 189.8 371.20 187.4 371.45 188.6 371.70 185.7 371.95 190.4 372.20 188.2 372.45 188.5 372.70 190.5 372.95 190.2 373.20 188.2 373.45 192.4 373.70 191.2 373.95 191.2 374.20 189.7 374.45 189.3 374.70 189.0 374.95 188.2 375.20 187.0 375.45 189.1 375.70 189.6 375.95 188.1 376.20 191.6 376.45 186.3 376.70 186.1 376.95 188.6 377.20 191.7 377.45 190.6 377.70 188.9 377.95 189.1 378.20 189.5 378.45 189.5 378.70 189.2 378.95 187.0 379.20 187.4 379.45 190.4 379.70 189.2 379.95 188.9 380.20 188.9 380.45 190.2 380.70 188.9 380.95 190.4 381.20 190.2 381.45 189.7 381.70 187.8 381.95 187.9 382.20 186.6 382.45 188.1 382.70 187.7 382.95 189.8 383.20 186.4 383.45 186.7 383.70 188.1 383.95 189.4 384.20 186.9 384.45 184.7 384.70 190.6 384.95 189.9 385.20 186.3 385.45 190.6 385.70 188.1 385.95 192.4 386.20 189.4 386.45 188.5 386.70 190.0 386.95 193.4 387.20 192.4 387.45 191.0 387.70 190.1 387.95 185.8 388.20 188.4 388.45 189.8 388.70 188.4 388.95 188.3 389.20 188.7 389.45 191.4 389.70 188.6 389.95 187.1 390.20 187.8 390.45 189.2 390.70 189.0 390.95 191.2 391.20 190.1 391.45 191.5 391.70 188.1 391.95 188.0 392.20 189.2 392.45 190.8 392.70 189.3 392.95 189.8 393.20 190.8 393.45 189.0 393.70 191.1 393.95 186.6 394.20 190.0 394.45 189.2 394.70 190.5 394.95 189.4 395.20 188.0 395.45 189.4 395.70 188.1 395.95 186.0 396.20 190.2 396.45 189.4 396.70 190.3 396.95 192.6 397.20 189.5 397.45 189.9 397.70 189.2 397.95 186.6 398.20 189.4 398.45 191.0 398.70 187.3 398.95 189.6 399.20 189.1 399.45 186.7 399.70 190.1 399.95 189.3 400.20 189.6 400.45 189.1 400.70 186.9 400.95 189.5 401.20 190.3 401.45 188.3 401.70 189.6 401.95 189.9 402.20 186.6 402.45 189.8 402.70 186.8 402.95 187.9 403.20 188.2 403.45 187.3 403.70 187.2 403.95 189.4 404.20 185.6 404.45 190.7 404.70 190.0 404.95 190.5 405.20 186.7 405.45 186.4 405.70 188.9 405.95 190.8 406.20 187.5 406.45 187.8 406.70 189.1 406.95 190.1 407.20 190.1 407.45 188.9 407.70 188.2 407.95 189.9 408.20 189.8 408.45 188.2 408.70 186.7 408.95 188.7 409.20 190.1 409.45 187.8 409.70 188.6 409.95 188.2 410.20 190.5 410.45 190.8 410.70 189.6 410.95 187.9 411.20 189.6 411.45 190.2 411.70 190.2 411.95 190.9 412.20 187.7 412.45 189.1 412.70 191.5 412.95 190.6 413.20 189.0 413.45 189.9 413.70 193.2 413.95 191.1 414.20 187.2 414.45 189.3 414.70 189.5 414.95 188.8 415.20 188.8 415.45 190.9 415.70 193.0 415.95 190.0 416.20 187.9 416.45 190.7 416.70 187.9 416.95 189.5 417.20 190.7 417.45 191.4 417.70 188.8 417.95 188.7 418.20 187.2 418.45 189.6 418.70 191.5 418.95 186.2 419.20 185.6 419.45 191.2 419.70 192.7 419.95 186.8 420.20 190.2 420.45 189.5 420.70 188.3 420.95 188.4 421.20 190.4 421.45 188.4 421.70 190.6 421.95 187.0 422.20 191.8 422.45 187.9 422.70 192.9 422.95 191.3 423.20 191.3 423.45 189.6 423.70 189.6 423.95 189.9 424.20 192.1 424.45 189.0 424.70 189.6 424.95 188.1 425.20 190.0 425.45 189.2 425.70 188.3 425.95 187.5 426.20 188.0 426.45 188.4 426.70 190.9 426.95 188.3 427.20 190.5 427.45 187.0 427.70 188.9 427.95 190.0 428.20 187.7 428.45 188.2 428.70 188.3 428.95 189.7 429.20 190.0 429.45 186.0 429.70 188.2 429.95 191.5 430.20 189.6 430.45 187.2 430.70 188.3 430.95 188.7 431.20 189.9 431.45 188.3 431.70 190.7 431.95 187.4 432.20 187.1 432.45 190.8 432.70 191.2 432.95 192.1 433.20 188.8 433.45 188.7 433.70 190.0 433.95 189.7 434.20 189.6 434.45 189.2 434.70 189.1 434.95 189.4 435.20 189.1 435.45 186.6 435.70 191.0 435.95 189.6 436.20 189.0 436.45 188.3 436.70 188.3 436.95 190.7 437.20 191.4 437.45 188.6 437.70 190.6 437.95 188.9 438.20 188.8 438.45 190.5 438.70 190.3 438.95 188.5 439.20 189.9 439.45 188.5 439.70 192.8 439.95 190.5 440.20 188.9 440.45 189.7 440.70 188.2 440.95 187.0 441.20 190.5 441.45 189.8 441.70 186.5 441.95 187.9 442.20 186.5 442.45 192.6 442.70 191.1 442.95 189.4 443.20 188.7 443.45 189.4 443.70 190.3 443.95 185.5 444.20 187.2 444.45 187.1 444.70 187.4 444.95 187.8 445.20 187.5 445.45 188.0 445.70 190.5 445.95 190.2 446.20 188.4 446.45 191.5 446.70 185.3 446.95 191.1 447.20 191.9 447.45 188.5 447.70 189.6 447.95 188.8 448.20 186.0 448.45 189.7 448.70 189.6 448.95 185.2 449.20 188.9 449.45 190.4 449.70 188.5 449.95 186.1 450.20 188.1 450.45 187.5 450.70 189.5 450.95 187.2 451.20 188.7 451.45 188.3 451.70 186.7 451.95 188.2 452.20 189.6 452.45 187.4 452.70 191.0 452.95 192.9 453.20 187.0 453.45 190.3 453.70 191.5 453.95 190.3 454.20 189.4 454.45 195.3 454.70 187.9 454.95 188.9 455.20 189.5 455.45 191.2 455.70 186.8 455.95 185.3 456.20 188.7 456.45 190.1 456.70 188.7 456.95 190.5 457.20 187.5 457.45 187.3 457.70 187.3 457.95 187.8 458.20 188.0 458.45 188.6 458.70 189.4 458.95 190.5 459.20 187.5 459.45 188.2 459.70 189.1 459.95 189.4 460.20 188.0 460.45 190.0 460.70 189.0 460.95 186.1 461.20 190.4 461.45 187.9 461.70 190.7 461.95 189.4 462.20 191.4 462.45 187.1 462.70 188.9 462.95 189.7 463.20 190.0 463.45 189.9 463.70 190.6 463.95 191.0 464.20 187.6 464.45 187.3 464.70 190.2 464.95 189.6 465.20 189.7 465.45 187.0 465.70 188.4 465.95 190.2 466.20 186.4 466.45 187.1 466.70 189.9 466.95 191.2 467.20 186.0 467.45 190.2 467.70 188.0 467.95 187.4 468.20 190.2 468.45 187.7 468.70 189.7 468.95 188.8 469.20 189.5 469.45 187.8 469.70 186.7 469.95 186.8 470.20 189.1 470.45 190.6 470.70 189.8 470.95 188.3 471.20 188.6 471.45 190.5 471.70 189.2 471.95 191.6 472.20 192.2 472.45 190.3 472.70 190.9 472.95 190.4 473.20 189.4 473.45 187.0 473.70 187.3 473.95 187.6 474.20 191.7 474.45 188.3 474.70 185.6 474.95 190.3 475.20 190.7 475.45 189.0 475.70 186.8 475.95 191.7 476.20 190.9 476.45 191.7 476.70 188.2 476.95 190.5 477.20 188.6 477.45 189.3 477.70 188.6 477.95 188.8 478.20 188.3 478.45 189.0 478.70 190.6 478.95 190.5 479.20 186.0 479.45 190.3 479.70 186.4 479.95 187.4 480.20 188.5 480.45 188.3 480.70 187.4 480.95 186.4 481.20 191.3 481.45 185.6 481.70 189.6 481.95 191.7 482.20 188.9 482.45 189.6 482.70 186.3 482.95 187.3 483.20 188.5 483.45 189.0 483.70 189.7 483.95 189.6 484.20 187.7 484.45 188.2 484.70 188.6 484.95 189.5 485.20 188.9 485.45 188.6 485.70 188.9 485.95 190.4 486.20 189.9 486.45 190.0 486.70 186.1 486.95 189.9 487.20 187.0 487.45 188.5 487.70 189.7 487.95 191.1 488.20 186.2 488.45 186.8 488.70 185.8 488.95 188.5 489.20 192.7 489.45 184.9 489.70 184.2 489.95 189.1 490.20 187.4 490.45 191.3 490.70 184.5 490.95 192.0 491.20 187.0 491.45 185.5 491.70 185.3 491.95 187.4 492.20 188.8 492.45 189.8 492.70 188.4 492.95 193.6 493.20 190.4 493.45 188.7 493.70 188.7 493.95 192.4 494.20 189.1 494.45 191.8 494.70 190.8 494.95 187.8 495.20 189.8 495.45 188.7 495.70 191.0 495.95 194.1 496.20 191.7 496.45 190.6 496.70 187.2 496.95 192.3 497.20 191.1 497.45 189.6 497.70 190.4 497.95 188.5 498.20 187.1 498.45 190.6 498.70 187.3 498.95 190.4 499.20 188.8 499.45 185.8 499.70 188.7 499.95 188.5 500.20 187.4 500.45 187.0 500.70 189.1 500.95 188.7 501.20 188.5 501.45 186.8 501.70 188.9 501.95 187.5 502.20 187.3 502.45 191.7 502.70 187.9 502.95 188.7 503.20 187.5 503.45 189.3 503.70 189.5 503.95 187.5 504.20 189.8 504.45 187.8 504.70 189.0 504.95 189.4 505.20 190.3 505.45 188.6 505.70 188.7 505.95 189.6 506.20 187.6 506.45 191.8 506.70 187.6 506.95 190.0 507.20 187.2 507.45 186.8 507.70 189.4 507.95 188.1 508.20 188.6 508.45 189.4 508.70 191.2 508.95 190.0 509.20 190.4 509.45 188.5 509.70 191.4 509.95 188.1 510.20 192.1 510.45 189.5 510.70 187.8 510.95 189.6 511.20 189.6 511.45 189.1 511.70 190.4 511.95 190.2 512.20 185.9 512.45 188.4 512.70 190.1 512.95 192.7 513.20 186.5 513.45 188.8 513.70 191.0 513.95 185.8 514.20 191.9 514.45 187.4 514.70 187.7 514.95 187.3 515.20 191.1 515.45 186.0 515.70 189.5 515.95 187.7 516.20 185.8 516.45 188.6 516.70 188.2 516.95 188.7 517.20 185.7 517.45 190.9 517.70 192.8 517.95 191.5 518.20 189.4 518.45 188.8 518.70 187.0 518.95 190.3 519.20 188.6 519.45 191.2 519.70 189.9 519.95 191.0 520.20 188.8 520.45 187.0 520.70 189.3 520.95 186.8 521.20 189.7 521.45 190.8 521.70 185.6 521.95 187.4 522.20 188.5 522.45 191.0 522.70 191.0 522.95 188.4 523.20 186.6 523.45 189.7 523.70 193.0 523.95 187.8 524.20 190.5 524.45 186.8 524.70 187.3 524.95 190.7 525.20 189.2 525.45 190.9 525.70 188.6 525.95 186.7 526.20 188.6 526.45 187.6 526.70 191.2 526.95 189.4 527.20 190.1 527.45 187.3 527.70 189.2 527.95 187.8 528.20 189.0 528.45 190.1 528.70 192.5 528.95 190.0 529.20 188.9 529.45 190.9 529.70 187.5 529.95 188.4 530.20 191.1 530.45 192.4 530.70 190.9 530.95 188.4 531.20 191.4 531.45 191.7 531.70 192.2 531.95 193.5 532.20 190.6 532.45 187.8 532.70 187.9 532.95 189.0 533.20 189.3 533.45 190.0 533.70 188.5 533.95 186.0 534.20 191.4 534.45 191.4 534.70 189.7 534.95 187.8 535.20 190.9 535.45 194.1 535.70 187.0 535.95 190.6 536.20 189.9 536.45 187.9 536.70 188.9 536.95 192.3 537.20 191.1 537.45 187.3 537.70 191.5 537.95 188.7 538.20 187.7 538.45 191.8 538.70 189.0 538.95 190.7 539.20 186.3 539.45 191.2 539.70 191.1 539.95 190.9 540.20 192.9 540.45 190.5 540.70 189.0 540.95 189.9 541.20 190.4 541.45 190.9 541.70 185.8 541.95 190.0 542.20 192.4 542.45 191.5 542.70 188.5 542.95 192.0 543.20 191.1 543.45 191.7 543.70 191.2 543.95 190.6 544.20 186.8 544.45 190.3 544.70 190.8 544.95 189.7 545.20 188.0" fill="none" stroke="#000" stroke-width="1.0" stroke-linejoin="round"/>
<path d="M57.25 189.4L57.50 186.8L57.75 196.0M61.67 188.9L61.92 186.6L62.17 193.5M63.66 188.6L63.91 185.7L64.16 190.4M65.34 189.0L65.59 185.0L65.84 191.0M71.87 189.2L72.12 186.6L72.37 192.4M81.50 189.1L81.75 184.9L82.00 193.8M81.92 188.5L82.17 185.4L82.42 191.2M82.28 189.4L82.53 187.2L82.78 191.8M82.98 189.3L83.23 187.3L83.48 199.0M84.30 190.0L84.55 187.3L84.80 193.4M84.58 190.4L84.83 188.4L85.08 194.0M87.27 190.9L87.52 189.3L87.77 196.0M89.29 190.2L89.54 188.6L89.79 192.9M95.41 189.0L95.66 187.2L95.91 191.3M98.65 187.0L98.90 185.0L99.15 192.7M100.17 190.9L100.42 183.7L100.67 193.6M100.73 189.3L100.98 186.3L101.23 191.0M102.52 191.2L102.77 188.3L103.02 194.8M103.45 192.1L103.70 188.8L103.95 195.3M105.28 190.7L105.53 185.3L105.78 192.6M110.00 188.3L110.25 184.5L110.50 192.0M110.33 189.2L110.58 186.7L110.83 192.3M112.26 186.8L112.51 183.9L112.76 188.5M113.10 189.8L113.35 184.1L113.60 191.6M113.91 188.7L114.16 186.9L114.41 191.7M114.27 189.0L114.52 187.3L114.77 190.8M114.71 189.1L114.96 184.1L115.21 191.6M114.72 189.1L114.97 186.5L115.22 194.2M116.33 190.2L116.58 185.6L116.83 194.6M116.94 190.3L117.19 185.6L117.44 193.1M117.10 190.1L117.35 186.9L117.60 192.0M117.72 188.9L117.97 183.0L118.22 190.7M118.03 191.4L118.28 189.8L118.53 193.2M118.04 191.3L118.29 189.7L118.54 198.0M120.93 190.8L121.18 188.9L121.43 192.7M121.07 189.7L121.32 185.0L121.57 193.5M121.72 189.1L121.97 187.4L122.22 190.6M122.02 188.8L122.27 186.9L122.52 192.7M123.55 188.0L123.80 185.0L124.05 191.8M124.95 190.0L125.20 184.1L125.45 191.8M125.30 190.9L125.55 187.8L125.80 201.4M125.66 189.4L125.91 187.6L126.16 195.0M126.18 190.7L126.43 187.4L126.68 195.4M126.85 189.3L127.10 187.5L127.35 191.2M127.33 190.3L127.58 188.5L127.83 192.3M132.91 189.5L133.16 188.0L133.41 192.0M133.32 188.6L133.57 183.8L133.82 194.0M137.14 188.4L137.39 181.5L137.64 190.3M137.35 189.6L137.60 186.8L137.85 191.4M137.96 189.4L138.21 186.9L138.46 191.6M138.49 188.7L138.74 185.8L138.99 190.6M140.40 187.4L140.65 183.7L140.90 192.8M140.68 185.1L140.93 179.5L141.18 187.0M144.72 187.5L144.97 185.8L145.22 189.9M145.73 187.6L145.98 185.8L146.23 189.6M146.17 189.7L146.42 187.3L146.67 191.8M146.86 190.9L147.11 188.5L147.36 193.5M147.04 190.3L147.29 182.6L147.54 193.7M149.41 192.8L149.66 188.3L149.91 196.3M150.03 191.2L150.28 188.4L150.53 195.3M152.33 189.0L152.58 186.3L152.83 191.0M154.36 186.3L154.61 181.5L154.86 188.4M154.69 191.2L154.94 188.1L155.19 195.8M156.91 190.1L157.16 182.4L157.41 192.0M157.33 188.1L157.58 186.1L157.83 191.1M157.39 188.6L157.64 185.6L157.89 190.1M157.99 191.2L158.24 187.4L158.49 193.1M158.04 190.3L158.29 187.1L158.54 192.9M158.36 187.9L158.61 186.2L158.86 191.4M158.78 189.7L159.03 187.8L159.28 191.9M160.04 186.8L160.29 181.6L160.54 191.1M160.05 186.8L160.30 184.4L160.55 190.4M161.12 186.0L161.37 180.3L161.62 187.9M165.63 190.1L165.88 187.0L166.13 194.7M166.96 190.8L167.21 187.6L167.46 195.0M167.55 187.8L167.80 182.3L168.05 196.6M167.70 186.0L167.95 183.7L168.20 188.1M168.46 191.8L168.71 189.1L168.96 196.1M169.85 189.6L170.10 186.4L170.35 193.1M170.58 191.0L170.83 187.6L171.08 194.0M175.13 187.4L175.38 182.7L175.63 189.7M175.29 188.2L175.54 183.7L175.79 192.1M176.83 189.9L177.08 187.9L177.33 192.0M180.02 190.1L180.27 187.9L180.52 194.0M180.06 190.4L180.31 186.8L180.56 193.5M181.82 190.4L182.07 187.3L182.32 192.6M183.23 189.1L183.48 184.7L183.73 193.5M183.37 190.5L183.62 186.4L183.87 193.9M183.52 191.6L183.77 188.6L184.02 193.9M183.69 191.9L183.94 189.4L184.19 195.0M184.45 190.2L184.70 186.2L184.95 196.1M187.57 189.4L187.82 186.7L188.07 192.0M187.61 188.6L187.86 185.9L188.11 191.3M189.73 189.2L189.98 184.0L190.23 192.8M189.85 189.0L190.10 184.0L190.35 197.5M193.20 192.4L193.45 189.1L193.70 195.2M194.11 189.4L194.36 186.5L194.61 193.0M194.77 187.9L195.02 184.9L195.27 191.6M195.51 190.6L195.76 188.6L196.01 193.4M195.82 191.2L196.07 188.8L196.32 195.0M196.16 190.2L196.41 188.0L196.66 193.6M197.94 189.7L198.19 186.9L198.44 195.6M198.90 187.6L199.15 185.9L199.40 190.3M200.21 189.0L200.46 186.9L200.71 191.6M200.91 189.5L201.16 187.2L201.41 191.5M201.49 189.3L201.74 186.9L201.99 192.9M202.03 189.8L202.28 186.2L202.53 191.8M204.80 188.2L205.05 186.5L205.30 192.3M206.24 187.8L206.49 184.5L206.74 190.0M208.63 189.4L208.88 187.8L209.13 191.9M208.63 189.4L208.88 186.0L209.13 195.9M209.06 188.1L209.31 184.9L209.56 194.1M209.79 190.1L210.04 187.5L210.29 192.0M210.02 189.9L210.27 187.6L210.52 192.9M212.46 188.5L212.71 184.3L212.96 194.3M213.81 187.6L214.06 184.9L214.31 189.7M214.33 189.1L214.58 183.7L214.83 196.7M214.34 189.1L214.59 181.5L214.84 191.2M214.49 190.8L214.74 185.5L214.99 196.5M215.62 186.1L215.87 182.8L216.12 196.1M215.66 186.6L215.91 178.2L216.16 190.0M215.75 187.9L216.00 184.6L216.25 197.2M216.32 188.3L216.57 184.0L216.82 194.9M216.40 187.5L216.65 184.7L216.90 194.2M216.44 187.1L216.69 180.2L216.94 191.7M218.92 188.4L219.17 185.5L219.42 196.5M219.60 191.5L219.85 185.0L220.10 193.6M219.81 193.1L220.06 182.4L220.31 198.6M219.98 191.2L220.23 188.8L220.48 194.0M220.01 191.4L220.26 188.6L220.51 193.0M220.11 192.1L220.36 190.3L220.61 194.5M220.71 187.0L220.96 185.2L221.21 188.5M224.80 189.0L225.05 187.4L225.30 193.0M226.69 185.2L226.94 183.0L227.19 187.2M226.91 188.0L227.16 186.0L227.41 189.7M227.15 185.8L227.40 183.6L227.65 190.4M227.42 188.4L227.67 185.8L227.92 191.6M227.50 188.9L227.75 180.3L228.00 193.5M229.18 187.4L229.43 185.5L229.68 190.1M230.45 186.4L230.70 184.5L230.95 188.1M231.34 188.2L231.59 185.1L231.84 189.7M234.11 189.4L234.36 186.7L234.61 191.2M234.82 189.8L235.07 188.1L235.32 192.3M234.95 189.2L235.20 187.3L235.45 193.4M235.39 188.0L235.64 180.8L235.89 194.8M236.16 188.7L236.41 185.4L236.66 193.0M237.53 188.7L237.78 185.8L238.03 191.2M237.72 188.6L237.97 185.2L238.22 192.8M237.81 189.0L238.06 187.2L238.31 191.9M238.89 191.4L239.14 188.0L239.39 193.0M239.15 189.9L239.40 188.3L239.65 192.6M241.37 190.8L241.62 187.9L241.87 194.6M242.79 190.2L243.04 188.4L243.29 195.6M244.88 188.9L245.13 186.7L245.38 194.0M245.74 189.4L245.99 186.3L246.24 191.4M246.52 190.2L246.77 187.7L247.02 192.7M246.85 188.3L247.10 184.0L247.35 191.2M246.98 188.5L247.23 186.8L247.48 190.8M247.04 188.9L247.29 187.2L247.54 191.0M248.12 188.3L248.37 183.3L248.62 192.6M249.86 188.1L250.11 183.9L250.36 190.7M251.16 188.6L251.41 182.2L251.66 192.9M254.32 187.9L254.57 185.8L254.82 189.8M254.56 187.6L254.81 185.1L255.06 189.8M255.18 190.1L255.43 181.9L255.68 194.9M255.29 190.6L255.54 187.0L255.79 194.4M257.95 192.2L258.20 185.9L258.45 194.8M259.06 190.1L259.31 187.1L259.56 192.1M259.53 190.6L259.78 188.8L260.03 192.5M259.68 190.1L259.93 183.0L260.18 191.7M260.65 191.6L260.90 188.9L261.15 197.4M261.21 191.3L261.46 188.8L261.71 193.6M262.46 190.1L262.71 186.5L262.96 194.2M262.77 187.7L263.02 184.5L263.27 195.5M264.47 186.3L264.72 183.3L264.97 190.1M264.58 188.9L264.83 185.5L265.08 190.9M264.79 190.9L265.04 186.2L265.29 195.2M267.06 188.5L267.31 184.0L267.56 193.8M268.68 189.1L268.93 185.2L269.18 191.6M269.04 189.8L269.29 182.2L269.54 193.9M270.06 190.3L270.31 188.1L270.56 195.9M270.68 189.9L270.93 187.3L271.18 197.2M271.42 190.4L271.67 187.7L271.92 192.4M271.48 190.5L271.73 187.6L271.98 197.2M271.63 189.3L271.88 186.3L272.13 192.2M272.03 188.6L272.28 184.0L272.53 195.4M274.40 190.6L274.65 188.5L274.90 193.7M275.33 189.3L275.58 184.1L275.83 192.0M275.78 188.3L276.03 185.5L276.28 192.1M276.88 187.1L277.13 182.3L277.38 189.7M278.00 190.2L278.25 187.3L278.50 194.1M278.64 189.2L278.89 186.3L279.14 194.8M279.30 187.9L279.55 186.0L279.80 192.5M282.54 188.4L282.79 183.8L283.04 192.0M284.77 187.2L285.02 183.6L285.27 190.5M286.26 188.0L286.51 185.5L286.76 190.0M286.67 189.2L286.92 185.5L287.17 191.1M287.46 191.8L287.71 188.4L287.96 193.7M287.63 188.5L287.88 186.2L288.13 193.5M289.11 190.6L289.36 185.8L289.61 193.8M289.45 184.1L289.70 181.1L289.95 187.8M289.53 185.5L289.78 182.0L290.03 187.1M289.93 187.0L290.18 180.7L290.43 193.4M292.14 189.9L292.39 187.8L292.64 191.8M293.51 189.0L293.76 186.7L294.01 191.7M294.77 189.5L295.02 187.1L295.27 192.2M294.90 188.5L295.15 186.8L295.40 193.4M295.90 186.8L296.15 183.9L296.40 188.6M296.04 186.9L296.29 184.4L296.54 188.9M298.13 189.8L298.38 188.1L298.63 191.9M298.93 187.9L299.18 184.7L299.43 190.9M299.51 188.0L299.76 185.7L300.01 190.5M300.81 188.2L301.06 184.7L301.31 190.3M300.99 190.0L301.24 184.6L301.49 194.8M302.69 190.4L302.94 188.3L303.19 192.5M303.63 190.8L303.88 189.0L304.13 193.2M304.55 189.4L304.80 186.3L305.05 192.0M305.10 190.3L305.35 187.8L305.60 192.5M305.33 189.7L305.58 188.2L305.83 191.6M305.50 189.3L305.75 186.9L306.00 191.2M305.83 188.9L306.08 186.9L306.33 190.4M306.47 193.3L306.72 191.3L306.97 195.0M308.54 189.7L308.79 188.0L309.04 192.1M308.99 188.8L309.24 187.0L309.49 191.2M309.52 188.4L309.77 186.9L310.02 191.6M310.34 189.2L310.59 186.4L310.84 197.4M311.35 189.8L311.60 182.6L311.85 191.4M311.81 189.7L312.06 188.2L312.31 194.1M313.45 189.5L313.70 187.6L313.95 192.4M316.04 189.1L316.29 185.5L316.54 193.6M316.20 190.5L316.45 187.4L316.70 192.2M316.63 191.5L316.88 186.8L317.13 194.4M319.10 190.4L319.35 188.1L319.60 202.7M319.40 188.8L319.65 183.8L319.90 190.3M319.44 188.6L319.69 186.7L319.94 190.8M321.98 189.7L322.23 185.9L322.48 193.2M322.68 187.8L322.93 185.7L323.18 196.2M324.89 186.8L325.14 184.6L325.39 188.7M325.52 187.6L325.77 185.4L326.02 190.2M326.08 187.1L326.33 184.1L326.58 190.3M326.41 188.5L326.66 184.7L326.91 190.8M327.98 188.7L328.23 184.6L328.48 190.2M328.71 188.6L328.96 186.9L329.21 191.7M330.65 189.4L330.90 187.5L331.15 191.2M330.93 189.6L331.18 186.9L331.43 191.3M333.23 192.1L333.48 189.9L333.73 194.2M334.00 190.5L334.25 185.8L334.50 193.0M334.04 190.4L334.29 187.3L334.54 192.9M334.72 187.7L334.97 182.7L335.22 190.7M336.24 189.2L336.49 187.5L336.74 191.4M337.96 189.7L338.21 187.5L338.46 194.6M339.35 189.7L339.60 186.6L339.85 199.3M340.43 193.2L340.68 189.7L340.93 197.6M341.25 189.2L341.50 184.9L341.75 192.5M341.44 188.0L341.69 184.7L341.94 192.9M344.85 189.1L345.10 186.3L345.35 192.0M345.49 188.5L345.74 184.9L345.99 191.6M345.61 187.5L345.86 185.0L346.11 190.8M345.79 188.1L346.04 186.2L346.29 190.1M346.14 192.0L346.39 189.2L346.64 195.5M347.09 188.5L347.34 186.6L347.59 192.9M351.80 190.0L352.05 188.0L352.30 193.4M351.98 189.4L352.23 187.0L352.48 192.0M353.16 188.4L353.41 185.8L353.66 193.6M354.37 190.9L354.62 189.1L354.87 193.1M354.41 191.0L354.66 187.9L354.91 192.5M356.17 188.2L356.42 184.9L356.67 191.3M357.54 188.0L357.79 185.7L358.04 192.3M357.55 188.1L357.80 186.2L358.05 190.6M359.66 188.7L359.91 186.6L360.16 190.4M360.05 189.8L360.30 187.9L360.55 191.6M360.12 190.0L360.37 186.7L360.62 195.7M361.02 185.8L361.27 183.6L361.52 188.6M361.67 188.6L361.92 187.1L362.17 190.7M362.08 188.4L362.33 184.2L362.58 191.0M362.35 190.2L362.60 188.5L362.85 192.4M363.09 189.1L363.34 186.0L363.59 194.9M363.78 189.6L364.03 187.2L364.28 194.4M364.32 190.5L364.57 181.6L364.82 194.9M365.00 189.6L365.25 188.1L365.50 191.5M366.86 188.4L367.11 186.6L367.36 193.3M367.45 189.4L367.70 186.8L367.95 194.2M368.50 188.4L368.75 186.7L369.00 190.7M370.84 188.4L371.09 185.9L371.34 191.3M371.58 188.2L371.83 184.6L372.08 189.8M371.89 188.8L372.14 183.9L372.39 191.7M373.91 190.0L374.16 184.5L374.41 196.0M373.92 189.9L374.17 188.2L374.42 192.2M373.97 189.7L374.22 187.9L374.47 192.9M374.37 189.1L374.62 186.3L374.87 191.8M375.06 187.9L375.31 185.5L375.56 191.2M377.71 189.1L377.96 187.4L378.21 195.3M378.57 188.1L378.82 185.4L379.07 190.8M382.91 186.9L383.16 184.5L383.41 189.1M383.60 188.9L383.85 186.9L384.10 192.4M386.85 192.8L387.10 188.1L387.35 196.0M387.65 186.6L387.90 183.6L388.15 188.3M388.61 188.3L388.86 184.3L389.11 190.2M388.76 188.4L389.01 186.6L389.26 191.7M390.91 190.3L391.16 188.2L391.41 194.5M391.52 188.1L391.77 184.7L392.02 189.7M392.33 190.0L392.58 186.9L392.83 191.7M393.64 187.8L393.89 185.9L394.14 190.4M393.88 189.0L394.13 187.1L394.38 190.8M394.96 188.1L395.21 185.3L395.46 191.7M395.08 188.7L395.33 185.3L395.58 191.7M395.17 189.3L395.42 184.4L395.67 192.1M396.58 191.6L396.83 189.2L397.08 193.9M399.22 186.9L399.47 184.8L399.72 190.3M399.68 189.4L399.93 184.3L400.18 193.2M399.79 189.4L400.04 187.2L400.29 191.0M400.31 188.1L400.56 186.5L400.81 190.8M401.66 189.9L401.91 188.4L402.16 195.3M407.12 189.3L407.37 186.9L407.62 197.3M408.48 187.0L408.73 183.4L408.98 188.8M409.40 188.5L409.65 186.1L409.90 190.6M409.57 188.4L409.82 184.8L410.07 190.4M411.38 190.2L411.63 183.8L411.88 196.4M417.13 191.2L417.38 189.6L417.63 192.8M418.37 190.9L418.62 187.9L418.87 192.6M418.73 186.1L418.98 182.6L419.23 188.8M423.12 190.1L423.37 186.2L423.62 192.3M423.41 189.6L423.66 186.7L423.91 191.8M423.43 189.6L423.68 187.3L423.93 191.3M424.33 189.3L424.58 184.9L424.83 192.3M424.41 189.5L424.66 186.6L424.91 191.2M424.76 188.5L425.01 186.2L425.26 192.6M424.83 189.1L425.08 186.3L425.33 191.1M425.08 189.6L425.33 183.7L425.58 191.4M425.46 188.2L425.71 186.5L425.96 191.0M425.69 187.5L425.94 183.9L426.19 190.4M426.20 188.4L426.45 182.3L426.70 190.1M426.74 188.7L426.99 185.7L427.24 193.2M427.86 188.5L428.11 185.8L428.36 192.2M428.17 188.1L428.42 186.5L428.67 190.4M429.68 191.2L429.93 189.4L430.18 194.1M430.39 188.0L430.64 186.1L430.89 194.9M430.86 189.4L431.11 186.7L431.36 191.0M432.40 191.1L432.65 189.4L432.90 193.7M433.07 188.8L433.32 186.5L433.57 190.3M434.07 189.4L434.32 182.7L434.57 191.0M434.20 189.2L434.45 186.9L434.70 191.0M436.11 188.6L436.36 186.5L436.61 190.9M436.19 188.4L436.44 185.2L436.69 191.9M436.27 188.3L436.52 182.5L436.77 189.9M436.87 191.2L437.12 189.7L437.37 196.4M437.47 190.5L437.72 188.8L437.97 195.8M437.73 188.9L437.98 187.3L438.23 192.4M437.90 188.8L438.15 186.9L438.40 192.6M438.39 190.4L438.64 187.6L438.89 197.2M439.62 191.3L439.87 188.5L440.12 193.0M440.68 187.1L440.93 185.0L441.18 189.5M443.28 189.7L443.53 184.9L443.78 192.3M444.55 187.6L444.80 185.6L445.05 189.5M445.13 187.9L445.38 184.8L445.63 191.1M445.43 190.3L445.68 186.3L445.93 192.3M445.59 190.4L445.84 187.5L446.09 194.2M446.03 189.5L446.28 184.1L446.53 191.1M447.28 188.8L447.53 186.2L447.78 191.1M447.78 187.9L448.03 186.2L448.28 190.4M447.85 187.2L448.10 185.0L448.35 189.3M447.92 186.3L448.17 180.4L448.42 187.9M448.49 188.9L448.74 185.8L448.99 193.7M449.36 189.1L449.61 185.6L449.86 193.7M450.29 188.2L450.54 186.3L450.79 190.3M450.97 188.6L451.22 186.5L451.47 191.1M451.57 187.5L451.82 185.6L452.07 190.1M451.94 189.5L452.19 183.6L452.44 191.6M455.21 190.9L455.46 188.8L455.71 193.4M455.80 186.6L456.05 178.0L456.30 188.7M455.99 188.9L456.24 186.3L456.49 191.9M458.47 189.5L458.72 186.7L458.97 191.5M458.58 190.0L458.83 187.2L459.08 193.1M459.19 188.2L459.44 184.3L459.69 192.9M461.26 188.6L461.51 182.4L461.76 190.4M462.09 189.1L462.34 182.5L462.59 194.1M462.65 189.5L462.90 187.1L463.15 193.2M463.49 190.6L463.74 184.6L463.99 192.5M463.54 190.7L463.79 188.0L464.04 194.9M464.09 187.4L464.34 180.8L464.59 190.7M465.16 187.4L465.41 185.9L465.66 190.5M466.31 188.3L466.56 185.6L466.81 190.4M466.92 186.5L467.17 184.5L467.42 190.2M467.79 188.5L468.04 186.5L468.29 191.2M468.10 188.7L468.35 186.7L468.60 195.4M468.12 188.5L468.37 185.3L468.62 190.9M468.75 188.9L469.00 187.0L469.25 192.0M470.44 189.9L470.69 187.1L470.94 192.2M471.53 190.0L471.78 187.1L472.03 196.0M472.02 191.7L472.27 189.7L472.52 196.3M473.23 187.1L473.48 184.8L473.73 189.7M473.56 187.5L473.81 181.8L474.06 189.2M474.44 185.6L474.69 182.5L474.94 189.9M475.13 189.5L475.38 184.7L475.63 192.4M475.47 187.3L475.72 185.4L475.97 194.7M475.54 188.6L475.79 184.6L476.04 193.3M475.79 191.4L476.04 187.7L476.29 193.2M477.54 188.7L477.79 183.9L478.04 190.8M477.80 188.6L478.05 182.6L478.30 192.3M478.89 187.0L479.14 183.6L479.39 191.7M480.97 190.9L481.22 189.1L481.47 193.5M481.78 190.8L482.03 188.1L482.28 192.9M482.34 187.7L482.59 184.4L482.84 191.3M482.48 186.4L482.73 183.2L482.98 188.5M483.26 189.2L483.51 185.9L483.76 191.3M484.51 188.8L484.76 181.5L485.01 191.4M485.79 190.2L486.04 185.2L486.29 196.3M486.38 187.2L486.63 185.4L486.88 191.8M486.49 186.6L486.74 184.0L486.99 193.1M486.65 189.1L486.90 181.8L487.15 191.0M487.71 191.0L487.96 189.1L488.21 194.4M488.08 186.5L488.33 179.2L488.58 189.1M489.86 188.0L490.11 184.0L490.36 191.3M490.45 184.6L490.70 182.8L490.95 187.1M490.87 188.7L491.12 186.9L491.37 191.4M490.90 188.0L491.15 182.3L491.40 191.4M491.76 187.8L492.01 183.6L492.26 190.7M492.06 189.2L492.31 186.3L492.56 194.9M492.09 189.4L492.34 184.1L492.59 191.5M492.60 191.6L492.85 185.5L493.10 194.6M494.80 188.6L495.05 186.3L495.30 190.4M497.62 189.1L497.87 186.5L498.12 196.7M498.08 188.9L498.33 184.2L498.58 191.0M498.27 189.6L498.52 186.2L498.77 192.8M498.49 187.7L498.74 185.8L498.99 190.7M499.98 187.4L500.23 181.8L500.48 190.2M500.25 187.4L500.50 185.6L500.75 189.4M500.52 189.0L500.77 187.2L501.02 191.1M500.65 188.8L500.90 185.9L501.15 192.0M500.99 188.2L501.24 185.5L501.49 190.7M501.43 188.7L501.68 185.2L501.93 204.6M501.81 187.4L502.06 185.4L502.31 191.5M503.29 189.4L503.54 186.4L503.79 191.8M503.50 189.1L503.75 185.5L504.00 192.5M503.92 189.5L504.17 187.6L504.42 192.5M505.97 188.0L506.22 185.5L506.47 190.1M506.31 189.9L506.56 188.2L506.81 193.9M506.33 189.7L506.58 182.2L506.83 192.4M507.84 188.4L508.09 186.1L508.34 190.3M509.32 189.9L509.57 186.4L509.82 193.6M509.68 188.4L509.93 183.2L510.18 193.2M510.31 188.7L510.56 182.7L510.81 191.7M511.16 189.2L511.41 186.6L511.66 191.2M511.82 188.2L512.07 185.0L512.32 194.3M512.39 189.7L512.64 187.9L512.89 192.9M513.48 190.3L513.73 185.3L513.98 194.6M513.63 187.4L513.88 185.5L514.13 190.0M513.83 189.1L514.08 182.8L514.33 191.8M514.84 189.4L515.09 187.5L515.34 195.5M516.12 187.7L516.37 182.6L516.62 197.7M516.41 188.3L516.66 186.0L516.91 192.0M517.49 192.6L517.74 188.9L517.99 194.8M517.83 190.4L518.08 187.5L518.33 192.5M518.85 189.3L519.10 186.8L519.35 191.4M519.41 190.1L519.66 187.5L519.91 192.2M521.48 185.8L521.73 181.7L521.98 189.6M521.60 186.7L521.85 181.9L522.10 191.1M522.76 188.0L523.01 185.7L523.26 190.3M522.82 187.5L523.07 185.3L523.32 189.6M522.97 186.8L523.22 184.5L523.47 189.1M523.26 190.6L523.51 188.7L523.76 193.7M523.35 191.7L523.60 185.4L523.85 193.4M524.76 190.4L525.01 184.7L525.26 193.0M526.58 190.3L526.83 185.4L527.08 192.5M526.88 189.9L527.13 183.5L527.38 192.9M527.90 188.7L528.15 181.6L528.40 194.7M531.94 190.7L532.19 184.5L532.44 197.5M532.58 188.5L532.83 186.4L533.08 194.2M532.74 189.0L532.99 184.3L533.24 192.6M534.20 191.4L534.45 189.2L534.70 197.3M534.82 189.3L535.07 185.8L535.32 192.5M535.83 190.2L536.08 184.4L536.33 192.6M535.99 189.5L536.24 187.3L536.49 192.1M537.16 188.0L537.41 185.2L537.66 190.1M538.07 189.6L538.32 186.2L538.57 192.9M539.81 191.8L540.06 189.3L540.31 194.7M539.85 192.1L540.10 190.0L540.35 194.1M541.25 189.9L541.50 185.5L541.75 196.1M543.24 191.6L543.49 186.2L543.74 193.4M43.40 188.5L43.80 181.0L44.20 196.0L44.50 185.9L44.80 188.5M47.40 187.4L47.80 182.0L48.20 197.0L48.50 185.5L48.80 187.4M54.40 189.3L54.80 183.0L55.20 196.0L55.50 187.1L55.80 189.3M125.40 189.2L125.80 181.0L126.20 196.0L126.50 186.3L126.80 189.2M143.40 186.0L143.80 180.0L144.20 195.0L144.50 183.9L144.80 186.0M159.40 188.8L159.80 182.0L160.20 197.0L160.50 186.4L160.80 188.8M185.40 191.4L185.80 176.0L186.20 205.0L186.50 186.0L186.80 191.4M186.90 193.7L187.30 180.0L187.70 200.0L188.00 188.9L188.30 193.7M212.90 185.1L213.30 175.0L213.70 200.0L214.00 181.6L214.30 185.1M214.40 191.1L214.80 180.0L215.20 203.0L215.50 187.2L215.80 191.1M227.40 189.7L227.80 181.0L228.20 201.0L228.50 186.6L228.80 189.7M231.40 186.3L231.80 181.0L232.20 198.0L232.50 184.5L232.80 186.3M247.90 187.1L248.30 176.0L248.70 202.0L249.00 183.2L249.30 187.1M266.70 188.6L267.10 164.0L267.50 200.0L267.80 180.0L268.10 188.6M273.40 191.9L273.80 176.0L274.20 200.0L274.50 186.3L274.80 191.9M274.90 189.6L275.30 180.0L275.70 198.0L276.00 186.3L276.30 189.6M295.40 187.9L295.80 181.0L296.20 196.0L296.50 185.5L296.80 187.9M317.40 187.8L317.80 176.0L318.20 206.0L318.50 183.7L318.80 187.8M318.90 189.8L319.30 180.0L319.70 200.0L320.00 186.4L320.30 189.8M340.40 184.7L340.80 178.0L341.20 204.0L341.50 182.4L341.80 184.7M341.90 190.3L342.30 181.0L342.70 200.0L343.00 187.0L343.30 190.3M347.40 186.7L347.80 177.0L348.20 200.0L348.50 183.3L348.80 186.7M362.20 190.9L362.60 181.0L363.00 198.0L363.30 187.5L363.60 190.9M369.40 189.0L369.80 181.0L370.20 200.0L370.50 186.2L370.80 189.0M398.40 189.6L398.80 178.0L399.20 200.0L399.50 185.6L399.80 189.6M398.90 186.7L399.30 170.0L399.70 205.0L400.00 180.8L400.30 186.7M408.90 187.8L409.30 174.0L409.70 204.0L410.00 183.0L410.30 187.8M412.40 190.6L412.80 180.0L413.20 200.0L413.50 186.9L413.80 190.6M431.40 187.4L431.80 181.0L432.20 200.0L432.50 185.2L432.80 187.4M432.90 188.7L433.30 183.0L433.70 203.0L434.00 186.7L434.30 188.7M442.40 189.4L442.80 180.0L443.20 200.0L443.50 186.1L443.80 189.4M453.60 189.4L454.00 172.0L454.40 226.5L454.70 183.3L455.00 189.4M496.90 189.6L497.30 179.0L497.70 208.0L498.00 185.9L498.30 189.6M499.40 188.5L499.80 181.0L500.20 206.0L500.50 185.9L500.80 188.5M533.30 186.0L533.70 175.0L534.10 200.0L534.40 182.2L534.70 186.0" stroke="#000" stroke-width="0.45" fill="none" stroke-linejoin="round"/>
<rect x="43.40" y="143.90" width="8.40" height="87.00" fill="#ff0000" fill-opacity="0.32"/>
<rect x="182.20" y="143.90" width="7.90" height="87.00" fill="#0000ff" fill-opacity="0.33"/>
<rect x="212.30" y="143.90" width="5.80" height="87.00" fill="#0000ff" fill-opacity="0.33"/>
<rect x="246.70" y="143.90" width="4.30" height="87.00" fill="#0000ff" fill-opacity="0.33"/>
<rect x="266.40" y="143.90" width="4.20" height="87.00" fill="#0000ff" fill-opacity="0.33"/>
<rect x="339.50" y="143.90" width="4.80" height="87.00" fill="#0000ff" fill-opacity="0.33"/>
<rect x="453.50" y="143.90" width="4.00" height="87.00" fill="#0000ff" fill-opacity="0.33"/>
<rect x="532.80" y="143.90" width="4.00" height="87.00" fill="#0000ff" fill-opacity="0.33"/>
<rect x="272.60" y="143.90" width="7.20" height="87.00" fill="#008000" fill-opacity="0.32"/>
<rect x="345.90" y="143.90" width="4.90" height="87.00" fill="#008000" fill-opacity="0.32"/>
<path d="M180.40 165.75V160.95H352.40V165.75" stroke="#fff" stroke-opacity="0.2" stroke-width="2.6" fill="none" stroke-linejoin="round"/><path d="M180.40 165.75V160.95H352.40V165.75" stroke="#000" stroke-width="1.1" fill="none" stroke-linejoin="round"/><path d="M266.40 160.95V156.85" stroke="#000" stroke-width="0.9" fill="none"/>
<rect x="242.40" y="148.05" width="48.00" height="8.80" fill="#fff" stroke="#3a3a3a" stroke-width="0.7"/><text class="t" x="266.40" y="154.65" font-size="6.05" text-anchor="middle">CAP Sequence</text>
<path d="M42.90 209.35V213.45H52.30V209.35" stroke="#fff" stroke-opacity="0.2" stroke-width="2.6" fill="none" stroke-linejoin="round"/><path d="M42.90 209.35V213.45H52.30V209.35" stroke="#000" stroke-width="1.1" fill="none" stroke-linejoin="round"/><path d="M47.60 213.45V217.75" stroke="#000" stroke-width="0.9" fill="none"/>
<rect x="41.40" y="217.75" width="12.60" height="9.00" fill="#fff" stroke="#3a3a3a" stroke-width="0.7"/><text class="t" x="47.70" y="224.45" font-size="6.05" text-anchor="middle">A3</text>
<path d="M181.40 209.35V213.45H212.60V209.35" stroke="#fff" stroke-opacity="0.2" stroke-width="2.6" fill="none" stroke-linejoin="round"/><path d="M181.40 209.35V213.45H212.60V209.35" stroke="#000" stroke-width="1.1" fill="none" stroke-linejoin="round"/><path d="M197.00 213.45V217.75" stroke="#000" stroke-width="0.9" fill="none"/>
<rect x="179.80" y="217.75" width="34.30" height="9.00" fill="#fff" stroke="#3a3a3a" stroke-width="0.7"/><text class="t" x="196.95" y="224.45" font-size="6.05" text-anchor="middle">CAP Cycle</text>
<path d="M271.40 209.35V213.45H280.60V209.35" stroke="#fff" stroke-opacity="0.2" stroke-width="2.6" fill="none" stroke-linejoin="round"/><path d="M271.40 209.35V213.45H280.60V209.35" stroke="#000" stroke-width="1.1" fill="none" stroke-linejoin="round"/><path d="M276.00 213.45V217.75" stroke="#000" stroke-width="0.9" fill="none"/>
<rect x="270.10" y="217.75" width="11.90" height="9.00" fill="#fff" stroke="#3a3a3a" stroke-width="0.7"/><text class="t" x="276.05" y="224.45" font-size="6.05" text-anchor="middle">A2</text>
<path d="M338.80 209.35V213.45H345.20V209.35" stroke="#fff" stroke-opacity="0.2" stroke-width="2.6" fill="none" stroke-linejoin="round"/><path d="M338.80 209.35V213.45H345.20V209.35" stroke="#000" stroke-width="1.1" fill="none" stroke-linejoin="round"/><path d="M342.00 213.45V217.75" stroke="#000" stroke-width="0.9" fill="none"/>
<rect x="336.70" y="217.75" width="10.60" height="9.00" fill="#fff" stroke="#3a3a3a" stroke-width="0.7"/><text class="t" x="342.00" y="224.45" font-size="6.05" text-anchor="middle">A1</text>
<path d="M456.40 209.35V213.45H534.20V209.35" stroke="#fff" stroke-opacity="0.2" stroke-width="2.6" fill="none" stroke-linejoin="round"/><path d="M456.40 209.35V213.45H534.20V209.35" stroke="#000" stroke-width="1.1" fill="none" stroke-linejoin="round"/><path d="M495.30 213.45V217.75" stroke="#000" stroke-width="0.9" fill="none"/>
<rect x="491.20" y="217.75" width="8.60" height="9.00" fill="#fff" stroke="#3a3a3a" stroke-width="0.7"/><text class="t" x="495.50" y="224.45" font-size="6.05" text-anchor="middle">B</text>
<rect x="35.4" y="143.9" width="510.10" height="87.00" fill="none" stroke="#000" stroke-width="0.62"/>
<path d="M33.10 218.73H35.4M33.10 203.89H35.4M33.10 189.05H35.4M33.10 174.21H35.4M33.10 159.37H35.4M33.10 144.53H35.4M60.20 230.9v2.3M135.77 230.9v2.3M211.34 230.9v2.3M286.91 230.9v2.3M362.48 230.9v2.3M438.05 230.9v2.3M513.62 230.9v2.3" stroke="#000" stroke-width="0.55" fill="none"/>
<path d="M33.90 227.63H35.4M33.90 224.67H35.4M33.90 221.70H35.4M33.90 215.76H35.4M33.90 212.79H35.4M33.90 209.83H35.4M33.90 206.86H35.4M33.90 200.92H35.4M33.90 197.95H35.4M33.90 194.99H35.4M33.90 192.02H35.4M33.90 186.08H35.4M33.90 183.11H35.4M33.90 180.15H35.4M33.90 177.18H35.4M33.90 171.24H35.4M33.90 168.27H35.4M33.90 165.31H35.4M33.90 162.34H35.4M33.90 156.40H35.4M33.90 153.43H35.4M33.90 150.47H35.4M33.90 147.50H35.4M41.31 230.9v1.5M79.09 230.9v1.5M97.98 230.9v1.5M116.88 230.9v1.5M154.66 230.9v1.5M173.56 230.9v1.5M192.45 230.9v1.5M230.23 230.9v1.5M249.12 230.9v1.5M268.02 230.9v1.5M305.80 230.9v1.5M324.69 230.9v1.5M343.59 230.9v1.5M381.37 230.9v1.5M400.26 230.9v1.5M419.16 230.9v1.5M456.94 230.9v1.5M475.83 230.9v1.5M494.73 230.9v1.5M532.51 230.9v1.5" stroke="#000" stroke-width="0.45" fill="none"/>
<text x="31.00" y="221.31" font-size="5.15" text-anchor="end">−100.0</text>
<text x="31.00" y="206.47" font-size="5.15" text-anchor="end">−50.0</text>
<text x="31.00" y="191.63" font-size="5.15" text-anchor="end">0.0</text>
<text x="31.00" y="176.79" font-size="5.15" text-anchor="end">50.0</text>
<text x="31.00" y="161.95" font-size="5.15" text-anchor="end">100.0</text>
<text x="31.00" y="147.11" font-size="5.15" text-anchor="end">150.0</text>
<text class="r" font-size="51.5" text-anchor="end" transform="translate(60.30 238.80) rotate(-30) scale(0.1)">23:07:00</text>
<text class="r" font-size="51.5" text-anchor="end" transform="translate(135.87 238.80) rotate(-30) scale(0.1)">23:08:00</text>
<text class="r" font-size="51.5" text-anchor="end" transform="translate(211.44 238.80) rotate(-30) scale(0.1)">23:09:00</text>
<text class="r" font-size="51.5" text-anchor="end" transform="translate(287.01 238.80) rotate(-30) scale(0.1)">23:10:00</text>
<text class="r" font-size="51.5" text-anchor="end" transform="translate(362.58 238.80) rotate(-30) scale(0.1)">23:11:00</text>
<text class="r" font-size="51.5" text-anchor="end" transform="translate(438.15 238.80) rotate(-30) scale(0.1)">23:12:00</text>
<text class="r" font-size="51.5" text-anchor="end" transform="translate(513.72 238.80) rotate(-30) scale(0.1)">23:13:00</text>
<text class="t" x="290.45" y="141.15" font-size="6.05" text-anchor="middle">EEG segment on F4-C4</text>
<text class="t" x="8.9" y="187.40" font-size="5.25" text-anchor="middle" transform="rotate(-90 8.9 187.40)">Amplitude (uV)</text>
</svg>
</body></html>
